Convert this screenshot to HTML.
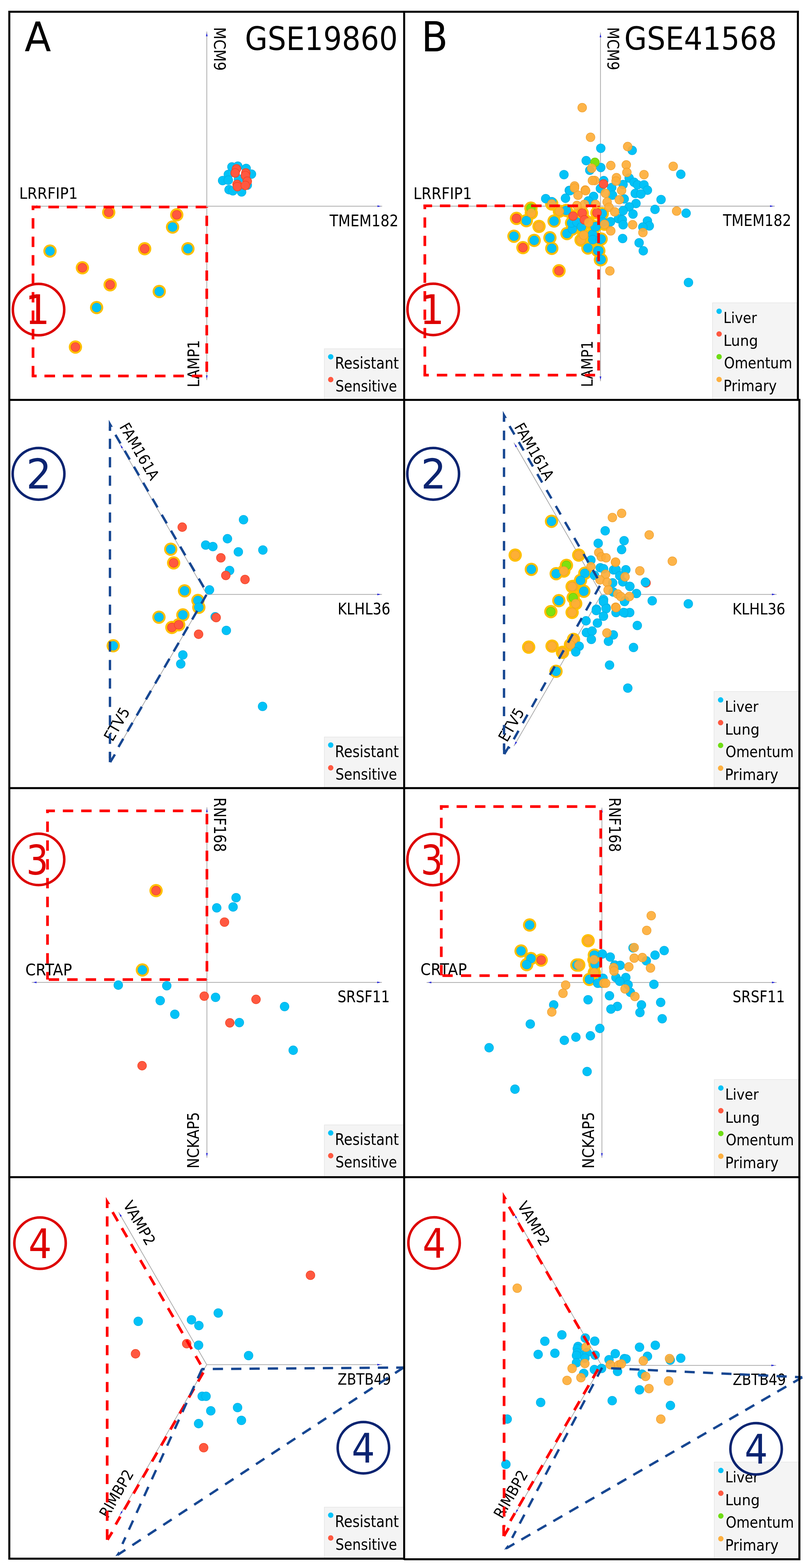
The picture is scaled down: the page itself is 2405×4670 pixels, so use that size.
<!DOCTYPE html><html><head><meta charset="utf-8"><title>Figure</title><style>html,body{margin:0;padding:0;background:#fff}svg{display:block}</style></head><body><svg width="2405" height="4670" viewBox="0 0 2405 4670" font-family="DejaVu Sans, Liberation Sans, sans-serif">
<rect width="2405" height="4670" fill="#fff"/>
<text transform="translate(74.0,152.5)" x="-0.8" y="0" font-size="121.4" textLength="78.7" lengthAdjust="spacingAndGlyphs" fill="#000">A</text>
<text transform="translate(734.0,149.0)" x="-4.9" y="0" font-size="96.0" textLength="454.7" lengthAdjust="spacingAndGlyphs" fill="#000">GSE19860</text>
<text transform="translate(1265.2,153.0)" x="-11.3" y="0" font-size="123.0" textLength="79.2" lengthAdjust="spacingAndGlyphs" fill="#000">B</text>
<text transform="translate(1863.0,147.5)" x="-4.9" y="0" font-size="94.7" textLength="454.3" lengthAdjust="spacingAndGlyphs" fill="#000">GSE41568</text>
<line x1="615.5" y1="614.2" x2="615.5" y2="94.0" stroke="#ACACAC" stroke-width="2.3"/><polygon points="615.5,98.0 618.1,108.0 612.9,108.0" fill="#2424D8"/>
<line x1="615.5" y1="614.2" x2="1137.5" y2="614.2" stroke="#ACACAC" stroke-width="2.3"/><polygon points="1133.5,614.2 1123.5,616.8 1123.5,611.6" fill="#2424D8"/>
<line x1="615.5" y1="614.2" x2="97.0" y2="614.2" stroke="#ACACAC" stroke-width="2.3"/><polygon points="101.0,614.2 111.0,611.6 111.0,616.8" fill="#2424D8"/>
<line x1="615.5" y1="614.2" x2="615.5" y2="1132.0" stroke="#ACACAC" stroke-width="2.3"/><polygon points="615.5,1128.0 612.9,1118.0 618.1,1118.0" fill="#2424D8"/>
<text transform="translate(637.0,85.0) rotate(90)" x="-4.2" y="0" font-size="48.7" textLength="130.1" lengthAdjust="spacingAndGlyphs" fill="#000">MCM9</text>
<text transform="translate(981.0,674.2)" x="0.1" y="0" font-size="48.6" textLength="205.0" lengthAdjust="spacingAndGlyphs" fill="#000">TMEM182</text>
<text transform="translate(61.5,592.0)" x="-4.2" y="0" font-size="46.6" textLength="174.2" lengthAdjust="spacingAndGlyphs" fill="#000">LRRFIP1</text>
<text transform="translate(593.0,1149.4) rotate(-90)" x="-4.1" y="0" font-size="48.0" textLength="140.8" lengthAdjust="spacingAndGlyphs" fill="#000">LAMP1</text>
<circle cx="323.6" cy="632.4" r="19.8" fill="#FFBF00"/>
<circle cx="526.1" cy="639.8" r="19.8" fill="#FFBF00"/>
<circle cx="513.6" cy="676.2" r="19.8" fill="#FFBF00"/>
<circle cx="148.8" cy="747.7" r="19.8" fill="#FFBF00"/>
<circle cx="430.6" cy="740.8" r="19.8" fill="#FFBF00"/>
<circle cx="559.3" cy="740.8" r="19.8" fill="#FFBF00"/>
<circle cx="245.2" cy="797.5" r="19.8" fill="#FFBF00"/>
<circle cx="327.8" cy="848.2" r="19.8" fill="#FFBF00"/>
<circle cx="474.0" cy="868.1" r="19.8" fill="#FFBF00"/>
<circle cx="287.6" cy="916.0" r="19.8" fill="#FFBF00"/>
<circle cx="224.5" cy="1033.6" r="19.8" fill="#FFBF00"/>
<circle cx="690.3" cy="497.1" r="13.2" fill="#02C2F7" stroke="#03AEE2" stroke-width="1.4"/>
<circle cx="707.8" cy="494.9" r="13.2" fill="#02C2F7" stroke="#03AEE2" stroke-width="1.4"/>
<circle cx="732.7" cy="501.6" r="13.2" fill="#02C2F7" stroke="#03AEE2" stroke-width="1.4"/>
<circle cx="748.5" cy="518.6" r="13.2" fill="#02C2F7" stroke="#03AEE2" stroke-width="1.4"/>
<circle cx="679.6" cy="519.7" r="13.2" fill="#02C2F7" stroke="#03AEE2" stroke-width="1.4"/>
<circle cx="662.6" cy="537.8" r="13.2" fill="#02C2F7" stroke="#03AEE2" stroke-width="1.4"/>
<circle cx="679.6" cy="536.7" r="13.2" fill="#02C2F7" stroke="#03AEE2" stroke-width="1.4"/>
<circle cx="681.8" cy="565.0" r="13.2" fill="#02C2F7" stroke="#03AEE2" stroke-width="1.4"/>
<circle cx="693.1" cy="568.3" r="13.2" fill="#02C2F7" stroke="#03AEE2" stroke-width="1.4"/>
<circle cx="719.1" cy="571.7" r="13.2" fill="#02C2F7" stroke="#03AEE2" stroke-width="1.4"/>
<circle cx="736.0" cy="551.4" r="13.2" fill="#02C2F7" stroke="#03AEE2" stroke-width="1.4"/>
<circle cx="710.0" cy="533.0" r="13.2" fill="#02C2F7" stroke="#03AEE2" stroke-width="1.4"/>
<circle cx="513.6" cy="676.2" r="13.2" fill="#02C2F7" stroke="#03AEE2" stroke-width="1.4"/>
<circle cx="148.8" cy="747.7" r="13.2" fill="#02C2F7" stroke="#03AEE2" stroke-width="1.4"/>
<circle cx="559.3" cy="740.8" r="13.2" fill="#02C2F7" stroke="#03AEE2" stroke-width="1.4"/>
<circle cx="474.0" cy="868.1" r="13.2" fill="#02C2F7" stroke="#03AEE2" stroke-width="1.4"/>
<circle cx="287.6" cy="916.0" r="13.2" fill="#02C2F7" stroke="#03AEE2" stroke-width="1.4"/>
<circle cx="703.9" cy="502.8" r="13.2" fill="#FF5840" stroke="#F0401E" stroke-width="1.4"/>
<circle cx="699.9" cy="515.2" r="13.2" fill="#FF5840" stroke="#F0401E" stroke-width="1.4"/>
<circle cx="731.6" cy="515.2" r="13.2" fill="#FF5840" stroke="#F0401E" stroke-width="1.4"/>
<circle cx="730.4" cy="523.1" r="13.2" fill="#FF5840" stroke="#F0401E" stroke-width="1.4"/>
<circle cx="736.0" cy="540.0" r="13.2" fill="#FF5840" stroke="#F0401E" stroke-width="1.4"/>
<circle cx="705.6" cy="549.1" r="13.2" fill="#FF5840" stroke="#F0401E" stroke-width="1.4"/>
<circle cx="706.7" cy="555.9" r="13.2" fill="#FF5840" stroke="#F0401E" stroke-width="1.4"/>
<circle cx="730.4" cy="552.5" r="13.2" fill="#FF5840" stroke="#F0401E" stroke-width="1.4"/>
<circle cx="323.6" cy="632.4" r="13.2" fill="#FF5840" stroke="#F0401E" stroke-width="1.4"/>
<circle cx="526.1" cy="639.8" r="13.2" fill="#FF5840" stroke="#F0401E" stroke-width="1.4"/>
<circle cx="430.6" cy="740.8" r="13.2" fill="#FF5840" stroke="#F0401E" stroke-width="1.4"/>
<circle cx="245.2" cy="797.5" r="13.2" fill="#FF5840" stroke="#F0401E" stroke-width="1.4"/>
<circle cx="327.8" cy="848.2" r="13.2" fill="#FF5840" stroke="#F0401E" stroke-width="1.4"/>
<circle cx="224.5" cy="1033.6" r="13.2" fill="#FF5840" stroke="#F0401E" stroke-width="1.4"/>
<line x1="94.3" y1="616.4" x2="615.4" y2="616.4" stroke="#FF0000" stroke-width="8" stroke-dasharray="31.5 23.3" stroke-dashoffset="5.10"/>
<line x1="98.3" y1="612.4" x2="98.3" y2="1123.8" stroke="#FF0000" stroke-width="8" stroke-dasharray="31 24" stroke-dashoffset="17.70"/>
<line x1="94.3" y1="1119.8" x2="615.4" y2="1119.8" stroke="#FF0000" stroke-width="8" stroke-dasharray="31.5 23.3" stroke-dashoffset="16.80"/>
<line x1="615.4" y1="616.4" x2="615.4" y2="1119.8" stroke="#FF0000" stroke-width="8" stroke-dasharray="30.5 23.8" stroke-dashoffset="28.20"/>
<circle cx="114.7" cy="922.1" r="76.5" fill="none" stroke="#DD0000" stroke-width="7.5"/><text transform="translate(87.5,965.4)" x="-12.7" y="0" font-size="120.7" textLength="73.9" lengthAdjust="spacingAndGlyphs" fill="#DD0000">1</text>
<rect x="965.4" y="1038.7" width="237.60000000000002" height="152.29999999999995" fill="#F4F4F4" stroke="#E2E2E2" stroke-width="1.5"/><circle cx="984.4" cy="1062.7" r="8" fill="#02C2F7"/><text transform="translate(1001.0,1098.3)" x="-4.0" y="0" font-size="47.5" textLength="190.2" lengthAdjust="spacingAndGlyphs" fill="#000">Resistant</text><circle cx="984.4" cy="1130.5" r="8" fill="#FF5840"/><text transform="translate(1001.0,1165.5)" x="-2.6" y="0" font-size="46.6" textLength="183.4" lengthAdjust="spacingAndGlyphs" fill="#000">Sensitive</text>
<line x1="1787.3" y1="614.0" x2="1787.3" y2="97.0" stroke="#ACACAC" stroke-width="2.3"/><polygon points="1787.3,101.0 1789.9,111.0 1784.7,111.0" fill="#2424D8"/>
<line x1="1787.3" y1="614.0" x2="2306.0" y2="614.0" stroke="#ACACAC" stroke-width="2.3"/><polygon points="2302.0,614.0 2292.0,616.6 2292.0,611.4" fill="#2424D8"/>
<line x1="1787.3" y1="614.0" x2="1264.5" y2="614.0" stroke="#ACACAC" stroke-width="2.3"/><polygon points="1268.5,614.0 1278.5,611.4 1278.5,616.6" fill="#2424D8"/>
<line x1="1787.3" y1="614.0" x2="1787.3" y2="1135.2" stroke="#ACACAC" stroke-width="2.3"/><polygon points="1787.3,1131.2 1784.7,1121.2 1789.9,1121.2" fill="#2424D8"/>
<text transform="translate(1808.0,85.0) rotate(90)" x="-4.1" y="0" font-size="48.7" textLength="128.2" lengthAdjust="spacingAndGlyphs" fill="#000">MCM9</text>
<text transform="translate(2151.9,673.0)" x="0.1" y="0" font-size="48.0" textLength="203.4" lengthAdjust="spacingAndGlyphs" fill="#000">TMEM182</text>
<text transform="translate(1234.7,593.1)" x="-4.2" y="0" font-size="48.0" textLength="173.9" lengthAdjust="spacingAndGlyphs" fill="#000">LRRFIP1</text>
<text transform="translate(1764.4,1148.8) rotate(-90)" x="-4.0" y="0" font-size="46.6" textLength="138.2" lengthAdjust="spacingAndGlyphs" fill="#000">LAMP1</text>
<circle cx="1580.3" cy="619.9" r="19.8" fill="#FFBF00"/>
<circle cx="1581.4" cy="634.6" r="19.8" fill="#FFBF00"/>
<circle cx="1537.3" cy="650.4" r="19.8" fill="#FFBF00"/>
<circle cx="1566.7" cy="657.2" r="19.8" fill="#FFBF00"/>
<circle cx="1604.4" cy="674.2" r="19.8" fill="#FFBF00"/>
<circle cx="1649.2" cy="658.3" r="19.8" fill="#FFBF00"/>
<circle cx="1529.8" cy="703.6" r="19.8" fill="#FFBF00"/>
<circle cx="1590.0" cy="716.0" r="19.8" fill="#FFBF00"/>
<circle cx="1556.5" cy="737.5" r="19.8" fill="#FFBF00"/>
<circle cx="1636.8" cy="708.1" r="19.8" fill="#FFBF00"/>
<circle cx="1642.4" cy="739.7" r="19.8" fill="#FFBF00"/>
<circle cx="1663.9" cy="806.4" r="19.8" fill="#FFBF00"/>
<circle cx="1642.4" cy="607.5" r="19.8" fill="#FFBF00"/>
<circle cx="1665.0" cy="629.0" r="19.8" fill="#FFBF00"/>
<circle cx="1685.4" cy="626.7" r="19.8" fill="#FFBF00"/>
<circle cx="1687.6" cy="695.6" r="19.8" fill="#FFBF00"/>
<circle cx="1703.5" cy="682.1" r="19.8" fill="#FFBF00"/>
<circle cx="1701.2" cy="664.0" r="19.8" fill="#FFBF00"/>
<circle cx="1717.0" cy="661.7" r="19.8" fill="#FFBF00"/>
<circle cx="1730.6" cy="675.3" r="19.8" fill="#FFBF00"/>
<circle cx="1729.5" cy="714.9" r="19.8" fill="#FFBF00"/>
<circle cx="1737.4" cy="700.2" r="19.8" fill="#FFBF00"/>
<circle cx="1763.4" cy="697.9" r="19.8" fill="#FFBF00"/>
<circle cx="1771.3" cy="675.3" r="19.8" fill="#FFBF00"/>
<circle cx="1764.5" cy="713.7" r="19.8" fill="#FFBF00"/>
<circle cx="1749.8" cy="738.6" r="19.8" fill="#FFBF00"/>
<circle cx="1779.2" cy="746.5" r="19.8" fill="#FFBF00"/>
<circle cx="1786.0" cy="713.7" r="19.8" fill="#FFBF00"/>
<circle cx="1787.1" cy="773.6" r="19.8" fill="#FFBF00"/>
<circle cx="1789.2" cy="711.9" r="19.8" fill="#FFBF00"/>
<circle cx="1782.4" cy="747.0" r="19.8" fill="#FFBF00"/>
<circle cx="1789.2" cy="773.0" r="19.8" fill="#FFBF00"/>
<circle cx="1792.6" cy="636.2" r="19.8" fill="#FFBF00"/>
<circle cx="1799.4" cy="667.8" r="19.8" fill="#FFBF00"/>
<circle cx="1705.7" cy="643.6" r="19.8" fill="#FFBF00"/>
<circle cx="1732.9" cy="634.6" r="19.8" fill="#FFBF00"/>
<circle cx="1739.6" cy="655.0" r="19.8" fill="#FFBF00"/>
<circle cx="1752.1" cy="662.9" r="19.8" fill="#FFBF00"/>
<circle cx="1776.8" cy="633.9" r="19.8" fill="#FFBF00"/>
<circle cx="1788.2" cy="441.6" r="13.2" fill="#02C2F7" stroke="#03AEE2" stroke-width="1.4"/>
<circle cx="1744.8" cy="478.5" r="13.2" fill="#02C2F7" stroke="#03AEE2" stroke-width="1.4"/>
<circle cx="1788.2" cy="498.8" r="13.2" fill="#02C2F7" stroke="#03AEE2" stroke-width="1.4"/>
<circle cx="1755.5" cy="507.2" r="13.2" fill="#02C2F7" stroke="#03AEE2" stroke-width="1.4"/>
<circle cx="1678.6" cy="520.1" r="13.2" fill="#02C2F7" stroke="#03AEE2" stroke-width="1.4"/>
<circle cx="1787.1" cy="561.5" r="13.2" fill="#02C2F7" stroke="#03AEE2" stroke-width="1.4"/>
<circle cx="1694.4" cy="567.1" r="13.2" fill="#02C2F7" stroke="#03AEE2" stroke-width="1.4"/>
<circle cx="1881.7" cy="447.8" r="13.2" fill="#02C2F7" stroke="#03AEE2" stroke-width="1.4"/>
<circle cx="2026.4" cy="519.0" r="13.2" fill="#02C2F7" stroke="#03AEE2" stroke-width="1.4"/>
<circle cx="1872.7" cy="530.3" r="13.2" fill="#02C2F7" stroke="#03AEE2" stroke-width="1.4"/>
<circle cx="1797.0" cy="538.0" r="13.2" fill="#02C2F7" stroke="#03AEE2" stroke-width="1.4"/>
<circle cx="1854.6" cy="549.6" r="13.2" fill="#02C2F7" stroke="#03AEE2" stroke-width="1.4"/>
<circle cx="1887.4" cy="542.8" r="13.2" fill="#02C2F7" stroke="#03AEE2" stroke-width="1.4"/>
<circle cx="1897.6" cy="550.7" r="13.2" fill="#02C2F7" stroke="#03AEE2" stroke-width="1.4"/>
<circle cx="1916.8" cy="550.7" r="13.2" fill="#02C2F7" stroke="#03AEE2" stroke-width="1.4"/>
<circle cx="1927.0" cy="566.5" r="13.2" fill="#02C2F7" stroke="#03AEE2" stroke-width="1.4"/>
<circle cx="1820.7" cy="558.6" r="13.2" fill="#02C2F7" stroke="#03AEE2" stroke-width="1.4"/>
<circle cx="1890.8" cy="576.2" r="13.2" fill="#02C2F7" stroke="#03AEE2" stroke-width="1.4"/>
<circle cx="1907.7" cy="577.8" r="13.2" fill="#02C2F7" stroke="#03AEE2" stroke-width="1.4"/>
<circle cx="1823.0" cy="581.2" r="13.2" fill="#02C2F7" stroke="#03AEE2" stroke-width="1.4"/>
<circle cx="1858.0" cy="592.5" r="13.2" fill="#02C2F7" stroke="#03AEE2" stroke-width="1.4"/>
<circle cx="1967.6" cy="594.3" r="13.2" fill="#02C2F7" stroke="#03AEE2" stroke-width="1.4"/>
<circle cx="1893.0" cy="606.1" r="13.2" fill="#02C2F7" stroke="#03AEE2" stroke-width="1.4"/>
<circle cx="1872.7" cy="616.2" r="13.2" fill="#02C2F7" stroke="#03AEE2" stroke-width="1.4"/>
<circle cx="1854.6" cy="627.6" r="13.2" fill="#02C2F7" stroke="#03AEE2" stroke-width="1.4"/>
<circle cx="1884.0" cy="637.7" r="13.2" fill="#02C2F7" stroke="#03AEE2" stroke-width="1.4"/>
<circle cx="1949.6" cy="623.7" r="13.2" fill="#02C2F7" stroke="#03AEE2" stroke-width="1.4"/>
<circle cx="2042.2" cy="635.0" r="13.2" fill="#02C2F7" stroke="#03AEE2" stroke-width="1.4"/>
<circle cx="1841.0" cy="651.3" r="13.2" fill="#02C2F7" stroke="#03AEE2" stroke-width="1.4"/>
<circle cx="1852.3" cy="654.7" r="13.2" fill="#02C2F7" stroke="#03AEE2" stroke-width="1.4"/>
<circle cx="1817.3" cy="660.3" r="13.2" fill="#02C2F7" stroke="#03AEE2" stroke-width="1.4"/>
<circle cx="1794.7" cy="661.5" r="13.2" fill="#02C2F7" stroke="#03AEE2" stroke-width="1.4"/>
<circle cx="1854.6" cy="669.4" r="13.2" fill="#02C2F7" stroke="#03AEE2" stroke-width="1.4"/>
<circle cx="1927.0" cy="658.1" r="13.2" fill="#02C2F7" stroke="#03AEE2" stroke-width="1.4"/>
<circle cx="1932.6" cy="672.8" r="13.2" fill="#02C2F7" stroke="#03AEE2" stroke-width="1.4"/>
<circle cx="1913.4" cy="676.2" r="13.2" fill="#02C2F7" stroke="#03AEE2" stroke-width="1.4"/>
<circle cx="1853.2" cy="710.3" r="13.2" fill="#02C2F7" stroke="#03AEE2" stroke-width="1.4"/>
<circle cx="1902.3" cy="723.2" r="13.2" fill="#02C2F7" stroke="#03AEE2" stroke-width="1.4"/>
<circle cx="1914.7" cy="747.0" r="13.2" fill="#02C2F7" stroke="#03AEE2" stroke-width="1.4"/>
<circle cx="2049.2" cy="841.4" r="13.2" fill="#02C2F7" stroke="#03AEE2" stroke-width="1.4"/>
<circle cx="1774.5" cy="674.6" r="13.2" fill="#02C2F7" stroke="#03AEE2" stroke-width="1.4"/>
<circle cx="1624.3" cy="591.7" r="13.2" fill="#02C2F7" stroke="#03AEE2" stroke-width="1.4"/>
<circle cx="1642.4" cy="600.7" r="13.2" fill="#02C2F7" stroke="#03AEE2" stroke-width="1.4"/>
<circle cx="1683.1" cy="590.5" r="13.2" fill="#02C2F7" stroke="#03AEE2" stroke-width="1.4"/>
<circle cx="1696.7" cy="567.9" r="13.2" fill="#02C2F7" stroke="#03AEE2" stroke-width="1.4"/>
<circle cx="1766.8" cy="584.9" r="13.2" fill="#02C2F7" stroke="#03AEE2" stroke-width="1.4"/>
<circle cx="1751.0" cy="598.4" r="13.2" fill="#02C2F7" stroke="#03AEE2" stroke-width="1.4"/>
<circle cx="1566.7" cy="657.2" r="13.2" fill="#02C2F7" stroke="#03AEE2" stroke-width="1.4"/>
<circle cx="1649.2" cy="658.3" r="13.2" fill="#02C2F7" stroke="#03AEE2" stroke-width="1.4"/>
<circle cx="1529.8" cy="703.6" r="13.2" fill="#02C2F7" stroke="#03AEE2" stroke-width="1.4"/>
<circle cx="1590.0" cy="716.0" r="13.2" fill="#02C2F7" stroke="#03AEE2" stroke-width="1.4"/>
<circle cx="1636.8" cy="708.1" r="13.2" fill="#02C2F7" stroke="#03AEE2" stroke-width="1.4"/>
<circle cx="1642.4" cy="739.7" r="13.2" fill="#02C2F7" stroke="#03AEE2" stroke-width="1.4"/>
<circle cx="1685.4" cy="626.7" r="13.2" fill="#02C2F7" stroke="#03AEE2" stroke-width="1.4"/>
<circle cx="1687.6" cy="695.6" r="13.2" fill="#02C2F7" stroke="#03AEE2" stroke-width="1.4"/>
<circle cx="1703.5" cy="682.1" r="13.2" fill="#02C2F7" stroke="#03AEE2" stroke-width="1.4"/>
<circle cx="1701.2" cy="664.0" r="13.2" fill="#02C2F7" stroke="#03AEE2" stroke-width="1.4"/>
<circle cx="1717.0" cy="661.7" r="13.2" fill="#02C2F7" stroke="#03AEE2" stroke-width="1.4"/>
<circle cx="1730.6" cy="675.3" r="13.2" fill="#02C2F7" stroke="#03AEE2" stroke-width="1.4"/>
<circle cx="1763.4" cy="697.9" r="13.2" fill="#02C2F7" stroke="#03AEE2" stroke-width="1.4"/>
<circle cx="1771.3" cy="675.3" r="13.2" fill="#02C2F7" stroke="#03AEE2" stroke-width="1.4"/>
<circle cx="1764.5" cy="713.7" r="13.2" fill="#02C2F7" stroke="#03AEE2" stroke-width="1.4"/>
<circle cx="1749.8" cy="738.6" r="13.2" fill="#02C2F7" stroke="#03AEE2" stroke-width="1.4"/>
<circle cx="1779.2" cy="746.5" r="13.2" fill="#02C2F7" stroke="#03AEE2" stroke-width="1.4"/>
<circle cx="1786.0" cy="713.7" r="13.2" fill="#02C2F7" stroke="#03AEE2" stroke-width="1.4"/>
<circle cx="1787.1" cy="773.6" r="13.2" fill="#02C2F7" stroke="#03AEE2" stroke-width="1.4"/>
<circle cx="1789.2" cy="711.9" r="13.2" fill="#02C2F7" stroke="#03AEE2" stroke-width="1.4"/>
<circle cx="1782.4" cy="747.0" r="13.2" fill="#02C2F7" stroke="#03AEE2" stroke-width="1.4"/>
<circle cx="1789.2" cy="773.0" r="13.2" fill="#02C2F7" stroke="#03AEE2" stroke-width="1.4"/>
<circle cx="1792.6" cy="636.2" r="13.2" fill="#02C2F7" stroke="#03AEE2" stroke-width="1.4"/>
<circle cx="1770.8" cy="483.5" r="13.2" fill="#7EE010" stroke="#6CCB05" stroke-width="1.4"/>
<circle cx="1580.3" cy="619.9" r="13.2" fill="#7EE010" stroke="#6CCB05" stroke-width="1.4"/>
<circle cx="1796.2" cy="547.9" r="13.2" fill="#FF5840" stroke="#F0401E" stroke-width="1.4"/>
<circle cx="1537.3" cy="650.4" r="13.2" fill="#FF5840" stroke="#F0401E" stroke-width="1.4"/>
<circle cx="1556.5" cy="737.5" r="13.2" fill="#FF5840" stroke="#F0401E" stroke-width="1.4"/>
<circle cx="1663.9" cy="806.4" r="13.2" fill="#FF5840" stroke="#F0401E" stroke-width="1.4"/>
<circle cx="1705.7" cy="643.6" r="13.2" fill="#FF5840" stroke="#F0401E" stroke-width="1.4"/>
<circle cx="1732.9" cy="634.6" r="13.2" fill="#FF5840" stroke="#F0401E" stroke-width="1.4"/>
<circle cx="1739.6" cy="655.0" r="13.2" fill="#FF5840" stroke="#F0401E" stroke-width="1.4"/>
<circle cx="1776.8" cy="633.9" r="13.2" fill="#FF5840" stroke="#F0401E" stroke-width="1.4"/>
<circle cx="1732.9" cy="320.7" r="13.2" fill="#FDAE3A" fill-opacity="0.92" stroke="#EE9E2A" stroke-width="1.4"/>
<circle cx="1757.7" cy="408.9" r="13.2" fill="#FDAE3A" fill-opacity="0.92" stroke="#EE9E2A" stroke-width="1.4"/>
<circle cx="1761.1" cy="501.1" r="13.2" fill="#FDAE3A" fill-opacity="0.92" stroke="#EE9E2A" stroke-width="1.4"/>
<circle cx="1770.2" cy="537.7" r="13.2" fill="#FDAE3A" fill-opacity="0.92" stroke="#EE9E2A" stroke-width="1.4"/>
<circle cx="1763.4" cy="537.7" r="13.2" fill="#FDAE3A" fill-opacity="0.92" stroke="#EE9E2A" stroke-width="1.4"/>
<circle cx="1710.2" cy="554.0" r="13.2" fill="#FDAE3A" fill-opacity="0.92" stroke="#EE9E2A" stroke-width="1.4"/>
<circle cx="1741.9" cy="566.0" r="13.2" fill="#FDAE3A" fill-opacity="0.92" stroke="#EE9E2A" stroke-width="1.4"/>
<circle cx="1868.2" cy="436.5" r="13.2" fill="#FDAE3A" fill-opacity="0.92" stroke="#EE9E2A" stroke-width="1.4"/>
<circle cx="1818.0" cy="493.0" r="13.2" fill="#FDAE3A" fill-opacity="0.92" stroke="#EE9E2A" stroke-width="1.4"/>
<circle cx="1864.1" cy="491.2" r="13.2" fill="#FDAE3A" fill-opacity="0.92" stroke="#EE9E2A" stroke-width="1.4"/>
<circle cx="1865.9" cy="513.4" r="13.2" fill="#FDAE3A" fill-opacity="0.92" stroke="#EE9E2A" stroke-width="1.4"/>
<circle cx="2003.8" cy="495.3" r="13.2" fill="#FDAE3A" fill-opacity="0.92" stroke="#EE9E2A" stroke-width="1.4"/>
<circle cx="1916.8" cy="520.2" r="13.2" fill="#FDAE3A" fill-opacity="0.92" stroke="#EE9E2A" stroke-width="1.4"/>
<circle cx="1834.9" cy="529.2" r="13.2" fill="#FDAE3A" fill-opacity="0.92" stroke="#EE9E2A" stroke-width="1.4"/>
<circle cx="1833.8" cy="539.4" r="13.2" fill="#FDAE3A" fill-opacity="0.92" stroke="#EE9E2A" stroke-width="1.4"/>
<circle cx="1850.1" cy="567.2" r="13.2" fill="#FDAE3A" fill-opacity="0.92" stroke="#EE9E2A" stroke-width="1.4"/>
<circle cx="1801.9" cy="575.6" r="13.2" fill="#FDAE3A" fill-opacity="0.92" stroke="#EE9E2A" stroke-width="1.4"/>
<circle cx="1843.3" cy="594.8" r="13.2" fill="#FDAE3A" fill-opacity="0.92" stroke="#EE9E2A" stroke-width="1.4"/>
<circle cx="1807.1" cy="601.6" r="13.2" fill="#FDAE3A" fill-opacity="0.92" stroke="#EE9E2A" stroke-width="1.4"/>
<circle cx="1812.8" cy="617.4" r="13.2" fill="#FDAE3A" fill-opacity="0.92" stroke="#EE9E2A" stroke-width="1.4"/>
<circle cx="1829.7" cy="630.9" r="13.2" fill="#FDAE3A" fill-opacity="0.92" stroke="#EE9E2A" stroke-width="1.4"/>
<circle cx="2014.0" cy="628.7" r="13.2" fill="#FDAE3A" fill-opacity="0.92" stroke="#EE9E2A" stroke-width="1.4"/>
<circle cx="1882.9" cy="669.4" r="13.2" fill="#FDAE3A" fill-opacity="0.92" stroke="#EE9E2A" stroke-width="1.4"/>
<circle cx="1913.6" cy="692.7" r="13.2" fill="#FDAE3A" fill-opacity="0.92" stroke="#EE9E2A" stroke-width="1.4"/>
<circle cx="1817.9" cy="687.7" r="13.2" fill="#FDAE3A" fill-opacity="0.92" stroke="#EE9E2A" stroke-width="1.4"/>
<circle cx="1815.2" cy="806.9" r="13.2" fill="#FDAE3A" fill-opacity="0.92" stroke="#EE9E2A" stroke-width="1.4"/>
<circle cx="1710.2" cy="560.0" r="13.2" fill="#FDAE3A" fill-opacity="0.92" stroke="#EE9E2A" stroke-width="1.4"/>
<circle cx="1720.4" cy="581.5" r="13.2" fill="#FDAE3A" fill-opacity="0.92" stroke="#EE9E2A" stroke-width="1.4"/>
<circle cx="1743.0" cy="567.9" r="13.2" fill="#FDAE3A" fill-opacity="0.92" stroke="#EE9E2A" stroke-width="1.4"/>
<circle cx="1772.4" cy="608.6" r="13.2" fill="#FDAE3A" fill-opacity="0.92" stroke="#EE9E2A" stroke-width="1.4"/>
<circle cx="1739.6" cy="608.6" r="13.2" fill="#FDAE3A" fill-opacity="0.92" stroke="#EE9E2A" stroke-width="1.4"/>
<circle cx="1717.0" cy="612.0" r="13.2" fill="#FDAE3A" fill-opacity="0.92" stroke="#EE9E2A" stroke-width="1.4"/>
<circle cx="1581.4" cy="634.6" r="13.2" fill="#FDAE3A" fill-opacity="0.92" stroke="#EE9E2A" stroke-width="1.4"/>
<circle cx="1604.4" cy="674.2" r="13.2" fill="#FDAE3A" fill-opacity="0.92" stroke="#EE9E2A" stroke-width="1.4"/>
<circle cx="1642.4" cy="607.5" r="13.2" fill="#FDAE3A" fill-opacity="0.92" stroke="#EE9E2A" stroke-width="1.4"/>
<circle cx="1665.0" cy="629.0" r="13.2" fill="#FDAE3A" fill-opacity="0.92" stroke="#EE9E2A" stroke-width="1.4"/>
<circle cx="1729.5" cy="714.9" r="13.2" fill="#FDAE3A" fill-opacity="0.92" stroke="#EE9E2A" stroke-width="1.4"/>
<circle cx="1737.4" cy="700.2" r="13.2" fill="#FDAE3A" fill-opacity="0.92" stroke="#EE9E2A" stroke-width="1.4"/>
<circle cx="1799.4" cy="667.8" r="13.2" fill="#FDAE3A" fill-opacity="0.92" stroke="#EE9E2A" stroke-width="1.4"/>
<circle cx="1752.1" cy="662.9" r="13.2" fill="#FDAE3A" fill-opacity="0.92" stroke="#EE9E2A" stroke-width="1.4"/>
<line x1="1260.5" y1="613.0" x2="1781.7" y2="613.0" stroke="#FF0000" stroke-width="8" stroke-dasharray="31.2 23.1" stroke-dashoffset="5.50"/>
<line x1="1264.5" y1="609.0" x2="1264.5" y2="1121.2" stroke="#FF0000" stroke-width="8" stroke-dasharray="30.5 24.4" stroke-dashoffset="16.50"/>
<line x1="1260.5" y1="1117.2" x2="1785.7" y2="1117.2" stroke="#FF0000" stroke-width="8" stroke-dasharray="31 24" stroke-dashoffset="15.20"/>
<line x1="1781.7" y1="613.0" x2="1781.7" y2="1117.2" stroke="#FF0000" stroke-width="8" stroke-dasharray="30.1 24.1" stroke-dashoffset="27.40"/>
<circle cx="1289.3" cy="921.4" r="76.5" fill="none" stroke="#DD0000" stroke-width="7.5"/><text transform="translate(1261.8,965.4)" x="-12.7" y="0" font-size="120.7" textLength="73.9" lengthAdjust="spacingAndGlyphs" fill="#DD0000">1</text>
<rect x="2120.8" y="901.9" width="254.19999999999982" height="289.1" fill="#F4F4F4" stroke="#E2E2E2" stroke-width="1.5"/><circle cx="2140.4" cy="927.0" r="8" fill="#02C2F7"/><text transform="translate(2157.3,962.0)" x="-4.0" y="0" font-size="45.0" textLength="99.6" lengthAdjust="spacingAndGlyphs" fill="#000">Liver</text><circle cx="2140.4" cy="994.6999999999999" r="8" fill="#FF5840"/><text transform="translate(2157.3,1030.3)" x="-4.1" y="0" font-size="45.0" textLength="103.2" lengthAdjust="spacingAndGlyphs" fill="#000">Lung</text><circle cx="2140.4" cy="1062.5" r="8" fill="#6EDD14"/><text transform="translate(2157.3,1097.4)" x="-2.3" y="0" font-size="46.0" textLength="203.0" lengthAdjust="spacingAndGlyphs" fill="#000">Omentum</text><circle cx="2140.4" cy="1130.2" r="8" fill="#FDB040"/><text transform="translate(2157.3,1165.2)" x="-4.0" y="0" font-size="46.0" textLength="158.9" lengthAdjust="spacingAndGlyphs" fill="#000">Primary</text>
<line x1="615.6" y1="1770.3" x2="1137.0" y2="1770.3" stroke="#ACACAC" stroke-width="2.3"/><polygon points="1133.0,1770.3 1123.0,1772.9 1123.0,1767.7" fill="#2424D8"/>
<line x1="615.6" y1="1770.3" x2="356.6" y2="1322.0" stroke="#ACACAC" stroke-width="2.3"/><polygon points="358.6,1325.5 365.9,1332.8 361.4,1335.4" fill="#2424D8"/>
<line x1="615.6" y1="1770.3" x2="356.6" y2="2218.6" stroke="#ACACAC" stroke-width="2.3"/><polygon points="358.6,2215.1 361.4,2205.2 365.9,2207.8" fill="#2424D8"/>
<text transform="translate(356.3,1274.4) rotate(60)" x="-4.0" y="0" font-size="45.3" textLength="187.9" lengthAdjust="spacingAndGlyphs" fill="#000">FAM161A</text>
<text transform="translate(337.0,2207.2) rotate(-60)" x="-4.1" y="0" font-size="45.3" textLength="106.7" lengthAdjust="spacingAndGlyphs" fill="#000">ETV5</text>
<text transform="translate(1009.0,1829.6)" x="-4.0" y="0" font-size="47.9" textLength="156.7" lengthAdjust="spacingAndGlyphs" fill="#000">KLHL36</text>
<circle cx="508.2" cy="1635.8" r="19.8" fill="#FFBF00"/>
<circle cx="549.3" cy="1759.7" r="19.8" fill="#FFBF00"/>
<circle cx="589.1" cy="1788.4" r="19.8" fill="#FFBF00"/>
<circle cx="591.8" cy="1808.8" r="19.8" fill="#FFBF00"/>
<circle cx="473.1" cy="1838.2" r="19.8" fill="#FFBF00"/>
<circle cx="544.3" cy="1831.4" r="19.8" fill="#FFBF00"/>
<circle cx="337.0" cy="1923.3" r="19.8" fill="#FFBF00"/>
<circle cx="516.8" cy="1676.5" r="19.8" fill="#FFBF00"/>
<circle cx="511.6" cy="1868.7" r="19.8" fill="#FFBF00"/>
<circle cx="531.9" cy="1860.8" r="19.8" fill="#FFBF00"/>
<circle cx="623.5" cy="1756.8" r="13.2" fill="#02C2F7" stroke="#03AEE2" stroke-width="1.4"/>
<circle cx="612.2" cy="1623.4" r="13.2" fill="#02C2F7" stroke="#03AEE2" stroke-width="1.4"/>
<circle cx="633.6" cy="1627.9" r="13.2" fill="#02C2F7" stroke="#03AEE2" stroke-width="1.4"/>
<circle cx="709.4" cy="1643.7" r="13.2" fill="#02C2F7" stroke="#03AEE2" stroke-width="1.4"/>
<circle cx="683.4" cy="1699.1" r="13.2" fill="#02C2F7" stroke="#03AEE2" stroke-width="1.4"/>
<circle cx="724.8" cy="1547.8" r="13.2" fill="#02C2F7" stroke="#03AEE2" stroke-width="1.4"/>
<circle cx="677.0" cy="1604.5" r="13.2" fill="#02C2F7" stroke="#03AEE2" stroke-width="1.4"/>
<circle cx="782.4" cy="1638.1" r="13.2" fill="#02C2F7" stroke="#03AEE2" stroke-width="1.4"/>
<circle cx="640.4" cy="1837.0" r="13.2" fill="#02C2F7" stroke="#03AEE2" stroke-width="1.4"/>
<circle cx="673.7" cy="1877.7" r="13.2" fill="#02C2F7" stroke="#03AEE2" stroke-width="1.4"/>
<circle cx="544.2" cy="1950.7" r="13.2" fill="#02C2F7" stroke="#03AEE2" stroke-width="1.4"/>
<circle cx="538.0" cy="1977.3" r="13.2" fill="#02C2F7" stroke="#03AEE2" stroke-width="1.4"/>
<circle cx="781.5" cy="2103.9" r="13.2" fill="#02C2F7" stroke="#03AEE2" stroke-width="1.4"/>
<circle cx="508.2" cy="1635.8" r="13.2" fill="#02C2F7" stroke="#03AEE2" stroke-width="1.4"/>
<circle cx="549.3" cy="1759.7" r="13.2" fill="#02C2F7" stroke="#03AEE2" stroke-width="1.4"/>
<circle cx="589.1" cy="1788.4" r="13.2" fill="#02C2F7" stroke="#03AEE2" stroke-width="1.4"/>
<circle cx="591.8" cy="1808.8" r="13.2" fill="#02C2F7" stroke="#03AEE2" stroke-width="1.4"/>
<circle cx="473.1" cy="1838.2" r="13.2" fill="#02C2F7" stroke="#03AEE2" stroke-width="1.4"/>
<circle cx="544.3" cy="1831.4" r="13.2" fill="#02C2F7" stroke="#03AEE2" stroke-width="1.4"/>
<circle cx="337.0" cy="1923.3" r="13.2" fill="#02C2F7" stroke="#03AEE2" stroke-width="1.4"/>
<circle cx="657.4" cy="1661.4" r="13.2" fill="#FF5840" stroke="#F0401E" stroke-width="1.4"/>
<circle cx="672.1" cy="1713.8" r="13.2" fill="#FF5840" stroke="#F0401E" stroke-width="1.4"/>
<circle cx="729.3" cy="1725.8" r="13.2" fill="#FF5840" stroke="#F0401E" stroke-width="1.4"/>
<circle cx="643.4" cy="1839.3" r="13.2" fill="#FF5840" stroke="#F0401E" stroke-width="1.4"/>
<circle cx="591.1" cy="1889.0" r="13.2" fill="#FF5840" stroke="#F0401E" stroke-width="1.4"/>
<circle cx="542.4" cy="1570.0" r="13.2" fill="#FF5840" stroke="#F0401E" stroke-width="1.4"/>
<circle cx="516.8" cy="1676.5" r="13.2" fill="#FF5840" stroke="#F0401E" stroke-width="1.4"/>
<circle cx="511.6" cy="1868.7" r="13.2" fill="#FF5840" stroke="#F0401E" stroke-width="1.4"/>
<circle cx="531.9" cy="1860.8" r="13.2" fill="#FF5840" stroke="#F0401E" stroke-width="1.4"/>
<line x1="327.3" y1="1271.3" x2="327.3" y2="2258.0" stroke="#174792" stroke-width="7" stroke-dasharray="30.3 24.6" stroke-dashoffset="19.50"/>
<polygon points="323.8,1250.3 335.8,1271.3 330.8,1271.3 330.8,1283.3 323.8,1283.3" fill="#174792"/>
<path d="M327.3,2239 L327.3,2270 M342,2247 L328,2270" stroke="#174792" stroke-width="7" fill="none"/>
<line x1="343.6" y1="1294.9" x2="606.5" y2="1748.9" stroke="#174792" stroke-width="7" stroke-dasharray="30 25" stroke-dashoffset="0"/>
<line x1="614.4" y1="1771.5" x2="352.7" y2="2224.7" stroke="#174792" stroke-width="7" stroke-dasharray="30 25" stroke-dashoffset="0"/>
<circle cx="114.7" cy="1411.2" r="77" fill="none" stroke="#0B2471" stroke-width="7.5"/><text transform="translate(86.8,1455.2)" x="-8.7" y="0" font-size="123.5" textLength="75.4" lengthAdjust="spacingAndGlyphs" fill="#0B2471">2</text>
<rect x="965.4" y="2195" width="237.60000000000002" height="152.30000000000018" fill="#F4F4F4" stroke="#E2E2E2" stroke-width="1.5"/><circle cx="984.4" cy="2219" r="8" fill="#02C2F7"/><text transform="translate(1001.0,2254.6)" x="-4.0" y="0" font-size="47.5" textLength="190.2" lengthAdjust="spacingAndGlyphs" fill="#000">Resistant</text><circle cx="984.4" cy="2286.8" r="8" fill="#FF5840"/><text transform="translate(1001.0,2321.8)" x="-2.6" y="0" font-size="46.6" textLength="183.4" lengthAdjust="spacingAndGlyphs" fill="#000">Sensitive</text>
<line x1="1790.5" y1="1770.3" x2="2311.7" y2="1770.3" stroke="#ACACAC" stroke-width="2.3"/><polygon points="2307.7,1770.3 2297.7,1772.9 2297.7,1767.7" fill="#2424D8"/>
<line x1="1790.5" y1="1770.3" x2="1529.7" y2="1318.6" stroke="#ACACAC" stroke-width="2.3"/><polygon points="1531.7,1322.1 1539.0,1329.4 1534.4,1332.0" fill="#2424D8"/>
<line x1="1790.5" y1="1770.3" x2="1529.7" y2="2222.0" stroke="#ACACAC" stroke-width="2.3"/><polygon points="1531.7,2218.5 1534.4,2208.6 1539.0,2211.2" fill="#2424D8"/>
<text transform="translate(1531.4,1274.6) rotate(60)" x="-4.0" y="0" font-size="45.3" textLength="187.9" lengthAdjust="spacingAndGlyphs" fill="#000">FAM161A</text>
<text transform="translate(1511.0,2209.0) rotate(-60)" x="-4.1" y="0" font-size="45.3" textLength="106.7" lengthAdjust="spacingAndGlyphs" fill="#000">ETV5</text>
<text transform="translate(2184.0,1829.6)" x="-4.1" y="0" font-size="46.6" textLength="157.6" lengthAdjust="spacingAndGlyphs" fill="#000">KLHL36</text>
<circle cx="1641.5" cy="1552.6" r="19.8" fill="#FFBF00"/>
<circle cx="1533.4" cy="1653.2" r="19.8" fill="#FFBF00"/>
<circle cx="1581.5" cy="1695.7" r="19.8" fill="#FFBF00"/>
<circle cx="1722.6" cy="1653.2" r="19.8" fill="#FFBF00"/>
<circle cx="1686.0" cy="1683.7" r="19.8" fill="#FFBF00"/>
<circle cx="1678.1" cy="1700.7" r="19.8" fill="#FFBF00"/>
<circle cx="1655.5" cy="1708.6" r="19.8" fill="#FFBF00"/>
<circle cx="1740.7" cy="1707.4" r="19.8" fill="#FFBF00"/>
<circle cx="1727.9" cy="1728.5" r="19.8" fill="#FFBF00"/>
<circle cx="1706.0" cy="1746.6" r="19.8" fill="#FFBF00"/>
<circle cx="1702.9" cy="1747.0" r="19.8" fill="#FFBF00"/>
<circle cx="1737.7" cy="1760.9" r="19.8" fill="#FFBF00"/>
<circle cx="1663.4" cy="1788.9" r="19.8" fill="#FFBF00"/>
<circle cx="1706.0" cy="1779.8" r="19.8" fill="#FFBF00"/>
<circle cx="1713.6" cy="1797.8" r="19.8" fill="#FFBF00"/>
<circle cx="1639.6" cy="1821.6" r="19.8" fill="#FFBF00"/>
<circle cx="1702.9" cy="1823.9" r="19.8" fill="#FFBF00"/>
<circle cx="1573.6" cy="1927.4" r="19.8" fill="#FFBF00"/>
<circle cx="1643.2" cy="1924.2" r="19.8" fill="#FFBF00"/>
<circle cx="1674.2" cy="1942.8" r="19.8" fill="#FFBF00"/>
<circle cx="1707.0" cy="1904.3" r="19.8" fill="#FFBF00"/>
<circle cx="1697.9" cy="1920.2" r="19.8" fill="#FFBF00"/>
<circle cx="1655.0" cy="1999.3" r="19.8" fill="#FFBF00"/>
<circle cx="1923.0" cy="1736.0" r="13.2" fill="#FF5840" stroke="#F0401E" stroke-width="1.4"/>
<circle cx="1801.3" cy="1580.9" r="13.2" fill="#02C2F7" stroke="#03AEE2" stroke-width="1.4"/>
<circle cx="1857.6" cy="1610.3" r="13.2" fill="#02C2F7" stroke="#03AEE2" stroke-width="1.4"/>
<circle cx="1850.2" cy="1636.8" r="13.2" fill="#02C2F7" stroke="#03AEE2" stroke-width="1.4"/>
<circle cx="1780.5" cy="1618.2" r="13.2" fill="#02C2F7" stroke="#03AEE2" stroke-width="1.4"/>
<circle cx="1758.8" cy="1668.2" r="13.2" fill="#02C2F7" stroke="#03AEE2" stroke-width="1.4"/>
<circle cx="1786.7" cy="1690.8" r="13.2" fill="#02C2F7" stroke="#03AEE2" stroke-width="1.4"/>
<circle cx="1796.5" cy="1693.9" r="13.2" fill="#02C2F7" stroke="#03AEE2" stroke-width="1.4"/>
<circle cx="1826.2" cy="1697.3" r="13.2" fill="#02C2F7" stroke="#03AEE2" stroke-width="1.4"/>
<circle cx="1769.3" cy="1713.4" r="13.2" fill="#02C2F7" stroke="#03AEE2" stroke-width="1.4"/>
<circle cx="1823.6" cy="1736.0" r="13.2" fill="#02C2F7" stroke="#03AEE2" stroke-width="1.4"/>
<circle cx="1834.1" cy="1696.9" r="13.2" fill="#02C2F7" stroke="#03AEE2" stroke-width="1.4"/>
<circle cx="1862.8" cy="1696.9" r="13.2" fill="#02C2F7" stroke="#03AEE2" stroke-width="1.4"/>
<circle cx="1844.7" cy="1715.0" r="13.2" fill="#02C2F7" stroke="#03AEE2" stroke-width="1.4"/>
<circle cx="1853.7" cy="1733.0" r="13.2" fill="#02C2F7" stroke="#03AEE2" stroke-width="1.4"/>
<circle cx="1874.8" cy="1746.6" r="13.2" fill="#02C2F7" stroke="#03AEE2" stroke-width="1.4"/>
<circle cx="1825.1" cy="1763.2" r="13.2" fill="#02C2F7" stroke="#03AEE2" stroke-width="1.4"/>
<circle cx="1894.4" cy="1767.7" r="13.2" fill="#02C2F7" stroke="#03AEE2" stroke-width="1.4"/>
<circle cx="1796.5" cy="1785.8" r="13.2" fill="#02C2F7" stroke="#03AEE2" stroke-width="1.4"/>
<circle cx="1859.8" cy="1788.8" r="13.2" fill="#02C2F7" stroke="#03AEE2" stroke-width="1.4"/>
<circle cx="1775.4" cy="1814.4" r="13.2" fill="#02C2F7" stroke="#03AEE2" stroke-width="1.4"/>
<circle cx="1804.0" cy="1809.9" r="13.2" fill="#02C2F7" stroke="#03AEE2" stroke-width="1.4"/>
<circle cx="1921.0" cy="1734.0" r="13.2" fill="#02C2F7" stroke="#03AEE2" stroke-width="1.4"/>
<circle cx="1874.6" cy="1746.4" r="13.2" fill="#02C2F7" stroke="#03AEE2" stroke-width="1.4"/>
<circle cx="1941.3" cy="1789.4" r="13.2" fill="#02C2F7" stroke="#03AEE2" stroke-width="1.4"/>
<circle cx="2048.7" cy="1798.4" r="13.2" fill="#02C2F7" stroke="#03AEE2" stroke-width="1.4"/>
<circle cx="1858.8" cy="1791.6" r="13.2" fill="#02C2F7" stroke="#03AEE2" stroke-width="1.4"/>
<circle cx="1833.6" cy="1824.4" r="13.2" fill="#02C2F7" stroke="#03AEE2" stroke-width="1.4"/>
<circle cx="1860.7" cy="1825.6" r="13.2" fill="#02C2F7" stroke="#03AEE2" stroke-width="1.4"/>
<circle cx="1874.3" cy="1824.4" r="13.2" fill="#02C2F7" stroke="#03AEE2" stroke-width="1.4"/>
<circle cx="1896.9" cy="1862.9" r="13.2" fill="#02C2F7" stroke="#03AEE2" stroke-width="1.4"/>
<circle cx="1885.6" cy="1928.4" r="13.2" fill="#02C2F7" stroke="#03AEE2" stroke-width="1.4"/>
<circle cx="1774.8" cy="1818.4" r="13.2" fill="#02C2F7" stroke="#03AEE2" stroke-width="1.4"/>
<circle cx="1796.2" cy="1792.4" r="13.2" fill="#02C2F7" stroke="#03AEE2" stroke-width="1.4"/>
<circle cx="1804.2" cy="1812.8" r="13.2" fill="#02C2F7" stroke="#03AEE2" stroke-width="1.4"/>
<circle cx="1796.2" cy="1835.4" r="13.2" fill="#02C2F7" stroke="#03AEE2" stroke-width="1.4"/>
<circle cx="1778.2" cy="1855.7" r="13.2" fill="#02C2F7" stroke="#03AEE2" stroke-width="1.4"/>
<circle cx="1744.3" cy="1849.0" r="13.2" fill="#02C2F7" stroke="#03AEE2" stroke-width="1.4"/>
<circle cx="1745.4" cy="1884.0" r="13.2" fill="#02C2F7" stroke="#03AEE2" stroke-width="1.4"/>
<circle cx="1762.3" cy="1879.5" r="13.2" fill="#02C2F7" stroke="#03AEE2" stroke-width="1.4"/>
<circle cx="1760.1" cy="1904.3" r="13.2" fill="#02C2F7" stroke="#03AEE2" stroke-width="1.4"/>
<circle cx="1825.6" cy="1890.8" r="13.2" fill="#02C2F7" stroke="#03AEE2" stroke-width="1.4"/>
<circle cx="1811.0" cy="1910.0" r="13.2" fill="#02C2F7" stroke="#03AEE2" stroke-width="1.4"/>
<circle cx="1814.3" cy="1980.8" r="13.2" fill="#02C2F7" stroke="#03AEE2" stroke-width="1.4"/>
<circle cx="1856.2" cy="1824.1" r="13.2" fill="#02C2F7" stroke="#03AEE2" stroke-width="1.4"/>
<circle cx="1723.9" cy="1924.7" r="13.2" fill="#02C2F7" stroke="#03AEE2" stroke-width="1.4"/>
<circle cx="1713.7" cy="1941.6" r="13.2" fill="#02C2F7" stroke="#03AEE2" stroke-width="1.4"/>
<circle cx="1868.6" cy="2049.4" r="13.2" fill="#02C2F7" stroke="#03AEE2" stroke-width="1.4"/>
<circle cx="1641.5" cy="1552.6" r="13.2" fill="#02C2F7" stroke="#03AEE2" stroke-width="1.4"/>
<circle cx="1581.5" cy="1695.7" r="13.2" fill="#02C2F7" stroke="#03AEE2" stroke-width="1.4"/>
<circle cx="1655.5" cy="1708.6" r="13.2" fill="#02C2F7" stroke="#03AEE2" stroke-width="1.4"/>
<circle cx="1740.7" cy="1707.4" r="13.2" fill="#02C2F7" stroke="#03AEE2" stroke-width="1.4"/>
<circle cx="1727.9" cy="1728.5" r="13.2" fill="#02C2F7" stroke="#03AEE2" stroke-width="1.4"/>
<circle cx="1737.7" cy="1760.9" r="13.2" fill="#02C2F7" stroke="#03AEE2" stroke-width="1.4"/>
<circle cx="1663.4" cy="1788.9" r="13.2" fill="#02C2F7" stroke="#03AEE2" stroke-width="1.4"/>
<circle cx="1655.0" cy="1999.3" r="13.2" fill="#02C2F7" stroke="#03AEE2" stroke-width="1.4"/>
<circle cx="1686.0" cy="1683.7" r="13.2" fill="#7EE010" stroke="#6CCB05" stroke-width="1.4"/>
<circle cx="1706.0" cy="1779.8" r="13.2" fill="#7EE010" stroke="#6CCB05" stroke-width="1.4"/>
<circle cx="1639.6" cy="1821.6" r="13.2" fill="#7EE010" stroke="#6CCB05" stroke-width="1.4"/>
<circle cx="1822.8" cy="1541.3" r="13.2" fill="#FDAE3A" fill-opacity="0.92" stroke="#EE9E2A" stroke-width="1.4"/>
<circle cx="1850.2" cy="1528.9" r="13.2" fill="#FDAE3A" fill-opacity="0.92" stroke="#EE9E2A" stroke-width="1.4"/>
<circle cx="1932.3" cy="1593.1" r="13.2" fill="#FDAE3A" fill-opacity="0.92" stroke="#EE9E2A" stroke-width="1.4"/>
<circle cx="1782.1" cy="1645.6" r="13.2" fill="#FDAE3A" fill-opacity="0.92" stroke="#EE9E2A" stroke-width="1.4"/>
<circle cx="1789.7" cy="1658.4" r="13.2" fill="#FDAE3A" fill-opacity="0.92" stroke="#EE9E2A" stroke-width="1.4"/>
<circle cx="1804.0" cy="1661.4" r="13.2" fill="#FDAE3A" fill-opacity="0.92" stroke="#EE9E2A" stroke-width="1.4"/>
<circle cx="1831.9" cy="1674.3" r="13.2" fill="#FDAE3A" fill-opacity="0.92" stroke="#EE9E2A" stroke-width="1.4"/>
<circle cx="1758.8" cy="1687.8" r="13.2" fill="#FDAE3A" fill-opacity="0.92" stroke="#EE9E2A" stroke-width="1.4"/>
<circle cx="1802.5" cy="1710.4" r="13.2" fill="#FDAE3A" fill-opacity="0.92" stroke="#EE9E2A" stroke-width="1.4"/>
<circle cx="1785.9" cy="1727.0" r="13.2" fill="#FDAE3A" fill-opacity="0.92" stroke="#EE9E2A" stroke-width="1.4"/>
<circle cx="1807.0" cy="1734.5" r="13.2" fill="#FDAE3A" fill-opacity="0.92" stroke="#EE9E2A" stroke-width="1.4"/>
<circle cx="1860.5" cy="1718.0" r="13.2" fill="#FDAE3A" fill-opacity="0.92" stroke="#EE9E2A" stroke-width="1.4"/>
<circle cx="1810.0" cy="1757.2" r="13.2" fill="#FDAE3A" fill-opacity="0.92" stroke="#EE9E2A" stroke-width="1.4"/>
<circle cx="1838.7" cy="1769.2" r="13.2" fill="#FDAE3A" fill-opacity="0.92" stroke="#EE9E2A" stroke-width="1.4"/>
<circle cx="1847.7" cy="1776.7" r="13.2" fill="#FDAE3A" fill-opacity="0.92" stroke="#EE9E2A" stroke-width="1.4"/>
<circle cx="1873.3" cy="1776.7" r="13.2" fill="#FDAE3A" fill-opacity="0.92" stroke="#EE9E2A" stroke-width="1.4"/>
<circle cx="1832.6" cy="1808.4" r="13.2" fill="#FDAE3A" fill-opacity="0.92" stroke="#EE9E2A" stroke-width="1.4"/>
<circle cx="1904.4" cy="1700.1" r="13.2" fill="#FDAE3A" fill-opacity="0.92" stroke="#EE9E2A" stroke-width="1.4"/>
<circle cx="2001.2" cy="1671.4" r="13.2" fill="#FDAE3A" fill-opacity="0.92" stroke="#EE9E2A" stroke-width="1.4"/>
<circle cx="1832.3" cy="1674.1" r="13.2" fill="#FDAE3A" fill-opacity="0.92" stroke="#EE9E2A" stroke-width="1.4"/>
<circle cx="1833.6" cy="1809.7" r="13.2" fill="#FDAE3A" fill-opacity="0.92" stroke="#EE9E2A" stroke-width="1.4"/>
<circle cx="1806.4" cy="1885.1" r="13.2" fill="#FDAE3A" fill-opacity="0.92" stroke="#EE9E2A" stroke-width="1.4"/>
<circle cx="1533.4" cy="1653.2" r="13.2" fill="#FDAE3A" fill-opacity="0.92" stroke="#EE9E2A" stroke-width="1.4"/>
<circle cx="1722.6" cy="1653.2" r="13.2" fill="#FDAE3A" fill-opacity="0.92" stroke="#EE9E2A" stroke-width="1.4"/>
<circle cx="1678.1" cy="1700.7" r="13.2" fill="#FDAE3A" fill-opacity="0.92" stroke="#EE9E2A" stroke-width="1.4"/>
<circle cx="1706.0" cy="1746.6" r="13.2" fill="#FDAE3A" fill-opacity="0.92" stroke="#EE9E2A" stroke-width="1.4"/>
<circle cx="1702.9" cy="1747.0" r="13.2" fill="#FDAE3A" fill-opacity="0.92" stroke="#EE9E2A" stroke-width="1.4"/>
<circle cx="1713.6" cy="1797.8" r="13.2" fill="#FDAE3A" fill-opacity="0.92" stroke="#EE9E2A" stroke-width="1.4"/>
<circle cx="1702.9" cy="1823.9" r="13.2" fill="#FDAE3A" fill-opacity="0.92" stroke="#EE9E2A" stroke-width="1.4"/>
<circle cx="1573.6" cy="1927.4" r="13.2" fill="#FDAE3A" fill-opacity="0.92" stroke="#EE9E2A" stroke-width="1.4"/>
<circle cx="1643.2" cy="1924.2" r="13.2" fill="#FDAE3A" fill-opacity="0.92" stroke="#EE9E2A" stroke-width="1.4"/>
<circle cx="1674.2" cy="1942.8" r="13.2" fill="#FDAE3A" fill-opacity="0.92" stroke="#EE9E2A" stroke-width="1.4"/>
<circle cx="1707.0" cy="1904.3" r="13.2" fill="#FDAE3A" fill-opacity="0.92" stroke="#EE9E2A" stroke-width="1.4"/>
<circle cx="1697.9" cy="1920.2" r="13.2" fill="#FDAE3A" fill-opacity="0.92" stroke="#EE9E2A" stroke-width="1.4"/>
<line x1="1500.2" y1="1244.7" x2="1500.2" y2="2234.0" stroke="#174792" stroke-width="7" stroke-dasharray="28.5 26.3" stroke-dashoffset="17.00"/>
<polygon points="1496.7,1223.7 1508.7,1244.7 1503.7,1244.7 1503.7,1255.7 1496.7,1255.7" fill="#174792"/>
<path d="M1500.6,2215 L1500.6,2246 M1515,2223 L1501,2246" stroke="#174792" stroke-width="7" fill="none"/>
<line x1="1516.7" y1="1269.0" x2="1778.7" y2="1722.2" stroke="#174792" stroke-width="7" stroke-dasharray="29 26" stroke-dashoffset="0"/>
<line x1="1785.5" y1="1744.8" x2="1514.0" y2="2228.8" stroke="#174792" stroke-width="7" stroke-dasharray="29 26" stroke-dashoffset="0"/>
<circle cx="1289.3" cy="1411.2" r="77" fill="none" stroke="#0B2471" stroke-width="7.5"/><text transform="translate(1261.4,1455.2)" x="-8.7" y="0" font-size="123.5" textLength="75.4" lengthAdjust="spacingAndGlyphs" fill="#0B2471">2</text>
<rect x="2125.3" y="2059.5" width="251.19999999999982" height="287.8000000000002" fill="#F4F4F4" stroke="#E2E2E2" stroke-width="1.5"/><circle cx="2144.9" cy="2084.6" r="8" fill="#02C2F7"/><text transform="translate(2161.8,2119.6)" x="-4.0" y="0" font-size="45.0" textLength="99.6" lengthAdjust="spacingAndGlyphs" fill="#000">Liver</text><circle cx="2144.9" cy="2152.3" r="8" fill="#FF5840"/><text transform="translate(2161.8,2187.9)" x="-4.1" y="0" font-size="45.0" textLength="103.2" lengthAdjust="spacingAndGlyphs" fill="#000">Lung</text><circle cx="2144.9" cy="2220.1" r="8" fill="#6EDD14"/><text transform="translate(2161.8,2255.0)" x="-2.3" y="0" font-size="46.0" textLength="203.0" lengthAdjust="spacingAndGlyphs" fill="#000">Omentum</text><circle cx="2144.9" cy="2287.8" r="8" fill="#FDB040"/><text transform="translate(2161.8,2322.8)" x="-4.0" y="0" font-size="46.0" textLength="158.9" lengthAdjust="spacingAndGlyphs" fill="#000">Primary</text>
<line x1="615.9" y1="2925.8" x2="1136.7" y2="2925.8" stroke="#ACACAC" stroke-width="2.3"/><polygon points="1132.7,2925.8 1122.7,2928.4 1122.7,2923.2" fill="#2424D8"/>
<line x1="615.9" y1="2925.8" x2="94.7" y2="2925.8" stroke="#ACACAC" stroke-width="2.3"/><polygon points="98.7,2925.8 108.7,2923.2 108.7,2928.4" fill="#2424D8"/>
<line x1="615.9" y1="2925.8" x2="615.9" y2="2404.5" stroke="#ACACAC" stroke-width="2.3"/><polygon points="615.9,2408.5 618.5,2418.5 613.3,2418.5" fill="#2424D8"/>
<line x1="615.9" y1="2925.8" x2="615.9" y2="3448.3" stroke="#ACACAC" stroke-width="2.3"/><polygon points="615.9,3444.3 613.3,3434.3 618.5,3434.3" fill="#2424D8"/>
<text transform="translate(636.5,2379.3) rotate(90)" x="-4.1" y="0" font-size="49.4" textLength="162.4" lengthAdjust="spacingAndGlyphs" fill="#000">RNF168</text>
<text transform="translate(78.1,2904.5)" x="-2.5" y="0" font-size="48.4" textLength="138.9" lengthAdjust="spacingAndGlyphs" fill="#000">CRTAP</text>
<text transform="translate(1007.4,2985.4)" x="-2.7" y="0" font-size="47.7" textLength="155.6" lengthAdjust="spacingAndGlyphs" fill="#000">SRSF11</text>
<text transform="translate(592.1,3476.0) rotate(-90)" x="-4.1" y="0" font-size="47.2" textLength="168.0" lengthAdjust="spacingAndGlyphs" fill="#000">NCKAP5</text>
<circle cx="464.5" cy="2652.5" r="19.8" fill="#FFBF00"/>
<circle cx="423.8" cy="2888.9" r="19.8" fill="#FFBF00"/>
<circle cx="702.7" cy="2673.7" r="13.2" fill="#02C2F7" stroke="#03AEE2" stroke-width="1.4"/>
<circle cx="645.1" cy="2703.8" r="13.2" fill="#02C2F7" stroke="#03AEE2" stroke-width="1.4"/>
<circle cx="693.8" cy="2701.2" r="13.2" fill="#02C2F7" stroke="#03AEE2" stroke-width="1.4"/>
<circle cx="352.1" cy="2934.0" r="13.2" fill="#02C2F7" stroke="#03AEE2" stroke-width="1.4"/>
<circle cx="496.4" cy="2935.8" r="13.2" fill="#02C2F7" stroke="#03AEE2" stroke-width="1.4"/>
<circle cx="476.9" cy="2980.1" r="13.2" fill="#02C2F7" stroke="#03AEE2" stroke-width="1.4"/>
<circle cx="520.3" cy="3020.8" r="13.2" fill="#02C2F7" stroke="#03AEE2" stroke-width="1.4"/>
<circle cx="641.6" cy="2970.3" r="13.2" fill="#02C2F7" stroke="#03AEE2" stroke-width="1.4"/>
<circle cx="847.0" cy="2997.8" r="13.2" fill="#02C2F7" stroke="#03AEE2" stroke-width="1.4"/>
<circle cx="712.4" cy="3045.6" r="13.2" fill="#02C2F7" stroke="#03AEE2" stroke-width="1.4"/>
<circle cx="872.7" cy="3128.0" r="13.2" fill="#02C2F7" stroke="#03AEE2" stroke-width="1.4"/>
<circle cx="423.8" cy="2888.9" r="13.2" fill="#02C2F7" stroke="#03AEE2" stroke-width="1.4"/>
<circle cx="668.2" cy="2746.3" r="13.2" fill="#FF5840" stroke="#F0401E" stroke-width="1.4"/>
<circle cx="607.9" cy="2966.8" r="13.2" fill="#FF5840" stroke="#F0401E" stroke-width="1.4"/>
<circle cx="762.0" cy="2976.5" r="13.2" fill="#FF5840" stroke="#F0401E" stroke-width="1.4"/>
<circle cx="684.1" cy="3046.5" r="13.2" fill="#FF5840" stroke="#F0401E" stroke-width="1.4"/>
<circle cx="422.9" cy="3174.0" r="13.2" fill="#FF5840" stroke="#F0401E" stroke-width="1.4"/>
<circle cx="464.5" cy="2652.5" r="13.2" fill="#FF5840" stroke="#F0401E" stroke-width="1.4"/>
<line x1="137.4" y1="2415.0" x2="615.9" y2="2415.0" stroke="#FF0000" stroke-width="8" stroke-dasharray="31 23.6" stroke-dashoffset="5.00"/>
<line x1="141.4" y1="2411.0" x2="141.4" y2="2917.5" stroke="#FF0000" stroke-width="8" stroke-dasharray="31 25" stroke-dashoffset="20.30"/>
<line x1="137.4" y1="2917.5" x2="614.8" y2="2917.5" stroke="#FF0000" stroke-width="8" stroke-dasharray="31 24" stroke-dashoffset="47.40"/>
<line x1="615.9" y1="2415.0" x2="615.9" y2="2917.5" stroke="#FF0000" stroke-width="8" stroke-dasharray="31 23.8" stroke-dashoffset="45.90"/>
<circle cx="114.8" cy="2559.5" r="76.5" fill="none" stroke="#DD0000" stroke-width="7.5"/><text transform="translate(86.0,2603.5)" x="-7.9" y="0" font-size="120.7" textLength="66.1" lengthAdjust="spacingAndGlyphs" fill="#DD0000">3</text>
<rect x="965.4" y="3350.3" width="237.60000000000002" height="155.69999999999982" fill="#F4F4F4" stroke="#E2E2E2" stroke-width="1.5"/><circle cx="984.4" cy="3374.3" r="8" fill="#02C2F7"/><text transform="translate(1001.0,3409.9)" x="-4.0" y="0" font-size="47.5" textLength="190.2" lengthAdjust="spacingAndGlyphs" fill="#000">Resistant</text><circle cx="984.4" cy="3442.1000000000004" r="8" fill="#FF5840"/><text transform="translate(1001.0,3477.1)" x="-2.6" y="0" font-size="46.6" textLength="183.4" lengthAdjust="spacingAndGlyphs" fill="#000">Sensitive</text>
<line x1="1791.6" y1="2926.1" x2="2311.7" y2="2926.1" stroke="#ACACAC" stroke-width="2.3"/><polygon points="2307.7,2926.1 2297.7,2928.7 2297.7,2923.5" fill="#2424D8"/>
<line x1="1791.6" y1="2926.1" x2="1269.9" y2="2926.1" stroke="#ACACAC" stroke-width="2.3"/><polygon points="1273.9,2926.1 1283.9,2923.5 1283.9,2928.7" fill="#2424D8"/>
<line x1="1791.6" y1="2926.1" x2="1791.6" y2="2405.5" stroke="#ACACAC" stroke-width="2.3"/><polygon points="1791.6,2409.5 1794.2,2419.5 1789.0,2419.5" fill="#2424D8"/>
<line x1="1791.6" y1="2926.1" x2="1791.6" y2="3448.5" stroke="#ACACAC" stroke-width="2.3"/><polygon points="1791.6,3444.5 1789.0,3434.5 1794.2,3434.5" fill="#2424D8"/>
<text transform="translate(1812.5,2379.3) rotate(90)" x="-4.1" y="0" font-size="48.7" textLength="162.4" lengthAdjust="spacingAndGlyphs" fill="#000">RNF168</text>
<text transform="translate(1254.1,2903.7)" x="-2.5" y="0" font-size="47.3" textLength="138.1" lengthAdjust="spacingAndGlyphs" fill="#000">CRTAP</text>
<text transform="translate(2183.2,2985.4)" x="-2.7" y="0" font-size="47.7" textLength="155.6" lengthAdjust="spacingAndGlyphs" fill="#000">SRSF11</text>
<text transform="translate(1767.8,3476.1) rotate(-90)" x="-4.1" y="0" font-size="47.5" textLength="168.3" lengthAdjust="spacingAndGlyphs" fill="#000">NCKAP5</text>
<circle cx="1576.4" cy="2754.9" r="19.8" fill="#FFBF00"/>
<circle cx="1550.9" cy="2832.3" r="19.8" fill="#FFBF00"/>
<circle cx="1580.3" cy="2854.9" r="19.8" fill="#FFBF00"/>
<circle cx="1567.8" cy="2872.9" r="19.8" fill="#FFBF00"/>
<circle cx="1610.8" cy="2859.4" r="19.8" fill="#FFBF00"/>
<circle cx="1750.5" cy="2801.7" r="19.8" fill="#FFBF00"/>
<circle cx="1717.0" cy="2874.1" r="19.8" fill="#FFBF00"/>
<circle cx="1722.7" cy="2874.1" r="19.8" fill="#FFBF00"/>
<circle cx="1769.0" cy="2844.7" r="19.8" fill="#FFBF00"/>
<circle cx="1767.9" cy="2858.3" r="19.8" fill="#FFBF00"/>
<circle cx="1771.3" cy="2871.8" r="19.8" fill="#FFBF00"/>
<circle cx="1769.0" cy="2896.7" r="19.8" fill="#FFBF00"/>
<circle cx="1754.3" cy="2917.0" r="19.8" fill="#FFBF00"/>
<circle cx="1792.8" cy="2841.3" r="13.2" fill="#02C2F7" stroke="#03AEE2" stroke-width="1.4"/>
<circle cx="1780.3" cy="2928.3" r="13.2" fill="#02C2F7" stroke="#03AEE2" stroke-width="1.4"/>
<circle cx="1791.6" cy="2928.3" r="13.2" fill="#02C2F7" stroke="#03AEE2" stroke-width="1.4"/>
<circle cx="1750.3" cy="2977.6" r="13.2" fill="#02C2F7" stroke="#03AEE2" stroke-width="1.4"/>
<circle cx="1648.1" cy="2992.8" r="13.2" fill="#02C2F7" stroke="#03AEE2" stroke-width="1.4"/>
<circle cx="1884.2" cy="2823.2" r="13.2" fill="#02C2F7" stroke="#03AEE2" stroke-width="1.4"/>
<circle cx="1976.9" cy="2831.1" r="13.2" fill="#02C2F7" stroke="#03AEE2" stroke-width="1.4"/>
<circle cx="1949.7" cy="2844.7" r="13.2" fill="#02C2F7" stroke="#03AEE2" stroke-width="1.4"/>
<circle cx="1923.7" cy="2861.6" r="13.2" fill="#02C2F7" stroke="#03AEE2" stroke-width="1.4"/>
<circle cx="1816.3" cy="2850.3" r="13.2" fill="#02C2F7" stroke="#03AEE2" stroke-width="1.4"/>
<circle cx="1829.9" cy="2874.1" r="13.2" fill="#02C2F7" stroke="#03AEE2" stroke-width="1.4"/>
<circle cx="1845.7" cy="2875.2" r="13.2" fill="#02C2F7" stroke="#03AEE2" stroke-width="1.4"/>
<circle cx="1833.3" cy="2911.4" r="13.2" fill="#02C2F7" stroke="#03AEE2" stroke-width="1.4"/>
<circle cx="1862.7" cy="2911.4" r="13.2" fill="#02C2F7" stroke="#03AEE2" stroke-width="1.4"/>
<circle cx="1844.6" cy="2922.7" r="13.2" fill="#02C2F7" stroke="#03AEE2" stroke-width="1.4"/>
<circle cx="1869.5" cy="2932.9" r="13.2" fill="#02C2F7" stroke="#03AEE2" stroke-width="1.4"/>
<circle cx="1794.9" cy="2913.6" r="13.2" fill="#02C2F7" stroke="#03AEE2" stroke-width="1.4"/>
<circle cx="1779.0" cy="2928.3" r="13.2" fill="#02C2F7" stroke="#03AEE2" stroke-width="1.4"/>
<circle cx="1876.3" cy="2955.5" r="13.2" fill="#02C2F7" stroke="#03AEE2" stroke-width="1.4"/>
<circle cx="1946.3" cy="2931.7" r="13.2" fill="#02C2F7" stroke="#03AEE2" stroke-width="1.4"/>
<circle cx="1814.1" cy="2965.6" r="13.2" fill="#02C2F7" stroke="#03AEE2" stroke-width="1.4"/>
<circle cx="1909.3" cy="2993.0" r="13.2" fill="#02C2F7" stroke="#03AEE2" stroke-width="1.4"/>
<circle cx="1904.8" cy="3015.6" r="13.2" fill="#02C2F7" stroke="#03AEE2" stroke-width="1.4"/>
<circle cx="1966.5" cy="2985.5" r="13.2" fill="#02C2F7" stroke="#03AEE2" stroke-width="1.4"/>
<circle cx="1971.0" cy="3034.1" r="13.2" fill="#02C2F7" stroke="#03AEE2" stroke-width="1.4"/>
<circle cx="1837.6" cy="2997.5" r="13.2" fill="#02C2F7" stroke="#03AEE2" stroke-width="1.4"/>
<circle cx="1818.4" cy="3005.4" r="13.2" fill="#02C2F7" stroke="#03AEE2" stroke-width="1.4"/>
<circle cx="1578.4" cy="3049.9" r="13.2" fill="#02C2F7" stroke="#03AEE2" stroke-width="1.4"/>
<circle cx="1679.7" cy="3098.5" r="13.2" fill="#02C2F7" stroke="#03AEE2" stroke-width="1.4"/>
<circle cx="1714.1" cy="3089.0" r="13.2" fill="#02C2F7" stroke="#03AEE2" stroke-width="1.4"/>
<circle cx="1757.3" cy="3085.0" r="13.2" fill="#02C2F7" stroke="#03AEE2" stroke-width="1.4"/>
<circle cx="1785.3" cy="3063.0" r="13.2" fill="#02C2F7" stroke="#03AEE2" stroke-width="1.4"/>
<circle cx="1747.5" cy="3191.4" r="13.2" fill="#02C2F7" stroke="#03AEE2" stroke-width="1.4"/>
<circle cx="1532.8" cy="3243.9" r="13.2" fill="#02C2F7" stroke="#03AEE2" stroke-width="1.4"/>
<circle cx="1455.8" cy="3120.5" r="13.2" fill="#02C2F7" stroke="#03AEE2" stroke-width="1.4"/>
<circle cx="1576.4" cy="2754.9" r="13.2" fill="#02C2F7" stroke="#03AEE2" stroke-width="1.4"/>
<circle cx="1550.9" cy="2832.3" r="13.2" fill="#02C2F7" stroke="#03AEE2" stroke-width="1.4"/>
<circle cx="1580.3" cy="2854.9" r="13.2" fill="#02C2F7" stroke="#03AEE2" stroke-width="1.4"/>
<circle cx="1567.8" cy="2872.9" r="13.2" fill="#02C2F7" stroke="#03AEE2" stroke-width="1.4"/>
<circle cx="1717.0" cy="2874.1" r="13.2" fill="#02C2F7" stroke="#03AEE2" stroke-width="1.4"/>
<circle cx="1769.0" cy="2844.7" r="13.2" fill="#02C2F7" stroke="#03AEE2" stroke-width="1.4"/>
<circle cx="1771.3" cy="2871.8" r="13.2" fill="#02C2F7" stroke="#03AEE2" stroke-width="1.4"/>
<circle cx="1754.3" cy="2917.0" r="13.2" fill="#02C2F7" stroke="#03AEE2" stroke-width="1.4"/>
<circle cx="1610.8" cy="2859.4" r="13.2" fill="#FF5840" stroke="#F0401E" stroke-width="1.4"/>
<circle cx="1797.3" cy="2928.3" r="13.2" fill="#FDAE3A" fill-opacity="0.92" stroke="#EE9E2A" stroke-width="1.4"/>
<circle cx="1683.6" cy="2934.0" r="13.2" fill="#FDAE3A" fill-opacity="0.92" stroke="#EE9E2A" stroke-width="1.4"/>
<circle cx="1675.7" cy="2958.4" r="13.2" fill="#FDAE3A" fill-opacity="0.92" stroke="#EE9E2A" stroke-width="1.4"/>
<circle cx="1938.4" cy="2727.1" r="13.2" fill="#FDAE3A" fill-opacity="0.92" stroke="#EE9E2A" stroke-width="1.4"/>
<circle cx="1924.9" cy="2771.2" r="13.2" fill="#FDAE3A" fill-opacity="0.92" stroke="#EE9E2A" stroke-width="1.4"/>
<circle cx="1887.6" cy="2822.1" r="13.2" fill="#FDAE3A" fill-opacity="0.92" stroke="#EE9E2A" stroke-width="1.4"/>
<circle cx="1887.6" cy="2853.7" r="13.2" fill="#FDAE3A" fill-opacity="0.92" stroke="#EE9E2A" stroke-width="1.4"/>
<circle cx="1912.0" cy="2851.9" r="13.2" fill="#FDAE3A" fill-opacity="0.92" stroke="#EE9E2A" stroke-width="1.4"/>
<circle cx="1936.2" cy="2883.1" r="13.2" fill="#FDAE3A" fill-opacity="0.92" stroke="#EE9E2A" stroke-width="1.4"/>
<circle cx="1871.7" cy="2879.7" r="13.2" fill="#FDAE3A" fill-opacity="0.92" stroke="#EE9E2A" stroke-width="1.4"/>
<circle cx="1826.5" cy="2882.0" r="13.2" fill="#FDAE3A" fill-opacity="0.92" stroke="#EE9E2A" stroke-width="1.4"/>
<circle cx="1827.6" cy="2892.2" r="13.2" fill="#FDAE3A" fill-opacity="0.92" stroke="#EE9E2A" stroke-width="1.4"/>
<circle cx="1802.8" cy="2928.3" r="13.2" fill="#FDAE3A" fill-opacity="0.92" stroke="#EE9E2A" stroke-width="1.4"/>
<circle cx="1860.4" cy="2945.3" r="13.2" fill="#FDAE3A" fill-opacity="0.92" stroke="#EE9E2A" stroke-width="1.4"/>
<circle cx="1889.8" cy="2967.9" r="13.2" fill="#FDAE3A" fill-opacity="0.92" stroke="#EE9E2A" stroke-width="1.4"/>
<circle cx="1642.4" cy="3014.0" r="13.2" fill="#FDAE3A" fill-opacity="0.92" stroke="#EE9E2A" stroke-width="1.4"/>
<circle cx="1750.5" cy="2801.7" r="13.2" fill="#FDAE3A" fill-opacity="0.92" stroke="#EE9E2A" stroke-width="1.4"/>
<circle cx="1722.7" cy="2874.1" r="13.2" fill="#FDAE3A" fill-opacity="0.92" stroke="#EE9E2A" stroke-width="1.4"/>
<circle cx="1767.9" cy="2858.3" r="13.2" fill="#FDAE3A" fill-opacity="0.92" stroke="#EE9E2A" stroke-width="1.4"/>
<circle cx="1769.0" cy="2896.7" r="13.2" fill="#FDAE3A" fill-opacity="0.92" stroke="#EE9E2A" stroke-width="1.4"/>
<line x1="1309.5" y1="2402.3" x2="1788.1" y2="2402.3" stroke="#FF0000" stroke-width="8" stroke-dasharray="31 23.7" stroke-dashoffset="5.10"/>
<line x1="1313.5" y1="2398.3" x2="1313.5" y2="2905.8" stroke="#FF0000" stroke-width="8" stroke-dasharray="31 23.8" stroke-dashoffset="17.50"/>
<line x1="1309.5" y1="2905.8" x2="1788.1" y2="2905.8" stroke="#FF0000" stroke-width="8" stroke-dasharray="30.5 24.6" stroke-dashoffset="47.70"/>
<line x1="1788.1" y1="2402.3" x2="1788.1" y2="2905.8" stroke="#FF0000" stroke-width="8" stroke-dasharray="30 24.8" stroke-dashoffset="44.30"/>
<circle cx="1289" cy="2559.9" r="76.5" fill="none" stroke="#DD0000" stroke-width="7.5"/><text transform="translate(1260.0,2603.9)" x="-7.9" y="0" font-size="120.7" textLength="66.1" lengthAdjust="spacingAndGlyphs" fill="#DD0000">3</text>
<rect x="2126" y="3215.3" width="250.5" height="290.6999999999998" fill="#F4F4F4" stroke="#E2E2E2" stroke-width="1.5"/><circle cx="2145.6" cy="3240.4" r="8" fill="#02C2F7"/><text transform="translate(2162.5,3275.4)" x="-4.0" y="0" font-size="45.0" textLength="99.6" lengthAdjust="spacingAndGlyphs" fill="#000">Liver</text><circle cx="2145.6" cy="3308.1000000000004" r="8" fill="#FF5840"/><text transform="translate(2162.5,3343.7)" x="-4.1" y="0" font-size="45.0" textLength="103.2" lengthAdjust="spacingAndGlyphs" fill="#000">Lung</text><circle cx="2145.6" cy="3375.9" r="8" fill="#6EDD14"/><text transform="translate(2162.5,3410.8)" x="-2.3" y="0" font-size="46.0" textLength="203.0" lengthAdjust="spacingAndGlyphs" fill="#000">Omentum</text><circle cx="2145.6" cy="3443.6000000000004" r="8" fill="#FDB040"/><text transform="translate(2162.5,3478.6)" x="-4.0" y="0" font-size="46.0" textLength="158.9" lengthAdjust="spacingAndGlyphs" fill="#000">Primary</text>
<line x1="615.3" y1="4064.4" x2="1137.0" y2="4064.4" stroke="#ACACAC" stroke-width="2.3"/><polygon points="1133.0,4064.4 1123.0,4067.0 1123.0,4061.8" fill="#2424D8"/>
<line x1="615.3" y1="4064.4" x2="353.3" y2="3610.6" stroke="#ACACAC" stroke-width="2.3"/><polygon points="355.3,3614.1 362.6,3621.4 358.0,3624.0" fill="#2424D8"/>
<line x1="615.3" y1="4064.4" x2="356.0" y2="4514.0" stroke="#ACACAC" stroke-width="2.3"/><polygon points="358.0,4510.5 360.7,4500.6 365.2,4503.2" fill="#2424D8"/>
<text transform="translate(365.4,3588.2) rotate(60)" x="-0.3" y="0" font-size="45.3" textLength="144.1" lengthAdjust="spacingAndGlyphs" fill="#000">VAMP2</text>
<text transform="translate(323.3,4520.3) rotate(-60)" x="-4.1" y="0" font-size="45.3" textLength="156.1" lengthAdjust="spacingAndGlyphs" fill="#000">RIMBP2</text>
<text transform="translate(1006.9,4123.6)" x="-1.8" y="0" font-size="46.4" textLength="158.8" lengthAdjust="spacingAndGlyphs" fill="#000">ZBTB49</text>
<circle cx="649.6" cy="3910.6" r="13.2" fill="#02C2F7" stroke="#03AEE2" stroke-width="1.4"/>
<circle cx="411.4" cy="3935.4" r="13.2" fill="#02C2F7" stroke="#03AEE2" stroke-width="1.4"/>
<circle cx="569.9" cy="3931.0" r="13.2" fill="#02C2F7" stroke="#03AEE2" stroke-width="1.4"/>
<circle cx="592.0" cy="3947.8" r="13.2" fill="#02C2F7" stroke="#03AEE2" stroke-width="1.4"/>
<circle cx="591.1" cy="4006.3" r="13.2" fill="#02C2F7" stroke="#03AEE2" stroke-width="1.4"/>
<circle cx="739.9" cy="4037.3" r="13.2" fill="#02C2F7" stroke="#03AEE2" stroke-width="1.4"/>
<circle cx="601.8" cy="4158.6" r="13.2" fill="#02C2F7" stroke="#03AEE2" stroke-width="1.4"/>
<circle cx="613.3" cy="4158.6" r="13.2" fill="#02C2F7" stroke="#03AEE2" stroke-width="1.4"/>
<circle cx="627.4" cy="4201.9" r="13.2" fill="#02C2F7" stroke="#03AEE2" stroke-width="1.4"/>
<circle cx="707.1" cy="4192.2" r="13.2" fill="#02C2F7" stroke="#03AEE2" stroke-width="1.4"/>
<circle cx="718.6" cy="4230.3" r="13.2" fill="#02C2F7" stroke="#03AEE2" stroke-width="1.4"/>
<circle cx="591.1" cy="4240.0" r="13.2" fill="#02C2F7" stroke="#03AEE2" stroke-width="1.4"/>
<circle cx="924.1" cy="3798.2" r="13.2" fill="#FF5840" stroke="#F0401E" stroke-width="1.4"/>
<circle cx="555.7" cy="4001.8" r="13.2" fill="#FF5840" stroke="#F0401E" stroke-width="1.4"/>
<circle cx="403.4" cy="4032.0" r="13.2" fill="#FF5840" stroke="#F0401E" stroke-width="1.4"/>
<circle cx="606.2" cy="4311.7" r="13.2" fill="#FF5840" stroke="#F0401E" stroke-width="1.4"/>
<line x1="319.0" y1="3586.0" x2="319.0" y2="4560.0" stroke="#FF0000" stroke-width="8" stroke-dasharray="30 24.8" stroke-dashoffset="18.10"/>
<polygon points="315.0,3564.9 328.0,3585.9 323.0,3585.9 323.0,3597.9 315.0,3597.9" fill="#FF0000"/>
<path d="M319,4555 L319,4586 M334,4563 L320,4586" stroke="#FF0000" stroke-width="8" fill="none"/>
<line x1="335.2" y1="3610.1" x2="597.2" y2="4064.0" stroke="#FF0000" stroke-width="8" stroke-dasharray="31 24" stroke-dashoffset="0"/>
<line x1="605.1" y1="4087.7" x2="344.4" y2="4540.4" stroke="#FF0000" stroke-width="8" stroke-dasharray="31 24" stroke-dashoffset="0"/>
<line x1="599.5" y1="4077.6" x2="1201.0" y2="4073.0" stroke="#174792" stroke-width="7" stroke-dasharray="30.5 24.1" stroke-dashoffset="20.78"/>
<line x1="601.0" y1="4078.0" x2="364.4" y2="4598.4" stroke="#174792" stroke-width="7" stroke-dasharray="30 25" stroke-dashoffset="0"/>
<line x1="1201.0" y1="4073.0" x2="350.0" y2="4631.0" stroke="#174792" stroke-width="7" stroke-dasharray="30 25" stroke-dashoffset="0"/>
<polygon points="343.3,4635.3 352.8,4620.7 358.6,4629.5" fill="#174792"/>
<circle cx="119.2" cy="3702.6" r="76.5" fill="none" stroke="#DD0000" stroke-width="7.5"/><text transform="translate(90.0,3746.6)" x="-5.2" y="0" font-size="120.7" textLength="69.2" lengthAdjust="spacingAndGlyphs" fill="#DD0000">4</text>
<circle cx="1081.6" cy="4311.7" r="76.5" fill="none" stroke="#0B2471" stroke-width="7.5"/><text transform="translate(1052.0,4355.7)" x="-5.2" y="0" font-size="120.7" textLength="69.2" lengthAdjust="spacingAndGlyphs" fill="#0B2471">4</text>
<rect x="965.4" y="4488.7" width="237.60000000000002" height="153.60000000000036" fill="#F4F4F4" stroke="#E2E2E2" stroke-width="1.5"/><circle cx="984.4" cy="4512.7" r="8" fill="#02C2F7"/><text transform="translate(1001.0,4548.3)" x="-4.0" y="0" font-size="47.5" textLength="190.2" lengthAdjust="spacingAndGlyphs" fill="#000">Resistant</text><circle cx="984.4" cy="4580.5" r="8" fill="#FF5840"/><text transform="translate(1001.0,4615.5)" x="-2.6" y="0" font-size="46.6" textLength="183.4" lengthAdjust="spacingAndGlyphs" fill="#000">Sensitive</text>
<line x1="1790.6" y1="4066.6" x2="2310.0" y2="4066.6" stroke="#ACACAC" stroke-width="2.3"/><polygon points="2306.0,4066.6 2296.0,4069.2 2296.0,4064.0" fill="#2424D8"/>
<line x1="1790.6" y1="4066.6" x2="1530.0" y2="3615.0" stroke="#ACACAC" stroke-width="2.3"/><polygon points="1532.0,3618.5 1539.2,3625.8 1534.7,3628.4" fill="#2424D8"/>
<line x1="1790.6" y1="4066.6" x2="1533.0" y2="4509.0" stroke="#ACACAC" stroke-width="2.3"/><polygon points="1535.0,4505.5 1537.8,4495.6 1542.3,4498.2" fill="#2424D8"/>
<text transform="translate(1539.0,3590.0) rotate(60)" x="-0.3" y="0" font-size="45.3" textLength="144.1" lengthAdjust="spacingAndGlyphs" fill="#000">VAMP2</text>
<text transform="translate(1497.0,4522.0) rotate(-60)" x="-4.1" y="0" font-size="45.3" textLength="156.1" lengthAdjust="spacingAndGlyphs" fill="#000">RIMBP2</text>
<text transform="translate(2182.7,4125.1)" x="-1.8" y="0" font-size="46.1" textLength="158.3" lengthAdjust="spacingAndGlyphs" fill="#000">ZBTB49</text>
<circle cx="1672.4" cy="3975.7" r="13.2" fill="#02C2F7" stroke="#03AEE2" stroke-width="1.4"/>
<circle cx="1621.7" cy="3994.7" r="13.2" fill="#02C2F7" stroke="#03AEE2" stroke-width="1.4"/>
<circle cx="1601.8" cy="4033.8" r="13.2" fill="#02C2F7" stroke="#03AEE2" stroke-width="1.4"/>
<circle cx="1651.6" cy="4030.4" r="13.2" fill="#02C2F7" stroke="#03AEE2" stroke-width="1.4"/>
<circle cx="1742.0" cy="3985.2" r="13.2" fill="#02C2F7" stroke="#03AEE2" stroke-width="1.4"/>
<circle cx="1770.2" cy="3994.3" r="13.2" fill="#02C2F7" stroke="#03AEE2" stroke-width="1.4"/>
<circle cx="1720.5" cy="4010.1" r="13.2" fill="#02C2F7" stroke="#03AEE2" stroke-width="1.4"/>
<circle cx="1718.3" cy="4016.9" r="13.2" fill="#02C2F7" stroke="#03AEE2" stroke-width="1.4"/>
<circle cx="1718.3" cy="4029.3" r="13.2" fill="#02C2F7" stroke="#03AEE2" stroke-width="1.4"/>
<circle cx="1716.0" cy="4037.2" r="13.2" fill="#02C2F7" stroke="#03AEE2" stroke-width="1.4"/>
<circle cx="1740.9" cy="4032.7" r="13.2" fill="#02C2F7" stroke="#03AEE2" stroke-width="1.4"/>
<circle cx="1747.6" cy="4028.2" r="13.2" fill="#02C2F7" stroke="#03AEE2" stroke-width="1.4"/>
<circle cx="1771.4" cy="4036.1" r="13.2" fill="#02C2F7" stroke="#03AEE2" stroke-width="1.4"/>
<circle cx="1740.9" cy="4045.1" r="13.2" fill="#02C2F7" stroke="#03AEE2" stroke-width="1.4"/>
<circle cx="1716.0" cy="4058.7" r="13.2" fill="#02C2F7" stroke="#03AEE2" stroke-width="1.4"/>
<circle cx="1769.1" cy="4079.0" r="13.2" fill="#02C2F7" stroke="#03AEE2" stroke-width="1.4"/>
<circle cx="1790.6" cy="4075.6" r="13.2" fill="#02C2F7" stroke="#03AEE2" stroke-width="1.4"/>
<circle cx="1737.5" cy="4090.3" r="13.2" fill="#02C2F7" stroke="#03AEE2" stroke-width="1.4"/>
<circle cx="1812.7" cy="4049.6" r="13.2" fill="#02C2F7" stroke="#03AEE2" stroke-width="1.4"/>
<circle cx="1831.3" cy="4031.6" r="13.2" fill="#02C2F7" stroke="#03AEE2" stroke-width="1.4"/>
<circle cx="1838.1" cy="4084.7" r="13.2" fill="#02C2F7" stroke="#03AEE2" stroke-width="1.4"/>
<circle cx="1858.4" cy="4046.3" r="13.2" fill="#02C2F7" stroke="#03AEE2" stroke-width="1.4"/>
<circle cx="1863.5" cy="4047.4" r="13.2" fill="#02C2F7" stroke="#03AEE2" stroke-width="1.4"/>
<circle cx="1609.3" cy="4176.9" r="13.2" fill="#02C2F7" stroke="#03AEE2" stroke-width="1.4"/>
<circle cx="1822.2" cy="4171.7" r="13.2" fill="#02C2F7" stroke="#03AEE2" stroke-width="1.4"/>
<circle cx="1903.5" cy="4012.3" r="13.2" fill="#02C2F7" stroke="#03AEE2" stroke-width="1.4"/>
<circle cx="1950.5" cy="4006.7" r="13.2" fill="#02C2F7" stroke="#03AEE2" stroke-width="1.4"/>
<circle cx="1927.2" cy="4039.5" r="13.2" fill="#02C2F7" stroke="#03AEE2" stroke-width="1.4"/>
<circle cx="1995.0" cy="4050.8" r="13.2" fill="#02C2F7" stroke="#03AEE2" stroke-width="1.4"/>
<circle cx="2026.2" cy="4045.1" r="13.2" fill="#02C2F7" stroke="#03AEE2" stroke-width="1.4"/>
<circle cx="1911.4" cy="4092.6" r="13.2" fill="#02C2F7" stroke="#03AEE2" stroke-width="1.4"/>
<circle cx="1903.5" cy="4139.4" r="13.2" fill="#02C2F7" stroke="#03AEE2" stroke-width="1.4"/>
<circle cx="1995.5" cy="4186.0" r="13.2" fill="#02C2F7" stroke="#03AEE2" stroke-width="1.4"/>
<circle cx="1509.7" cy="4226.5" r="13.2" fill="#02C2F7" stroke="#03AEE2" stroke-width="1.4"/>
<circle cx="1505.8" cy="4361.2" r="13.2" fill="#02C2F7" stroke="#03AEE2" stroke-width="1.4"/>
<circle cx="1744.3" cy="4012.3" r="13.2" fill="#FDAE3A" fill-opacity="0.92" stroke="#EE9E2A" stroke-width="1.4"/>
<circle cx="1740.9" cy="4061.0" r="13.2" fill="#FDAE3A" fill-opacity="0.92" stroke="#EE9E2A" stroke-width="1.4"/>
<circle cx="1702.9" cy="4075.6" r="13.2" fill="#FDAE3A" fill-opacity="0.92" stroke="#EE9E2A" stroke-width="1.4"/>
<circle cx="1729.1" cy="4103.2" r="13.2" fill="#FDAE3A" fill-opacity="0.92" stroke="#EE9E2A" stroke-width="1.4"/>
<circle cx="1687.7" cy="4111.4" r="13.2" fill="#FDAE3A" fill-opacity="0.92" stroke="#EE9E2A" stroke-width="1.4"/>
<circle cx="1816.6" cy="4064.3" r="13.2" fill="#FDAE3A" fill-opacity="0.92" stroke="#EE9E2A" stroke-width="1.4"/>
<circle cx="1841.5" cy="4065.5" r="13.2" fill="#FDAE3A" fill-opacity="0.92" stroke="#EE9E2A" stroke-width="1.4"/>
<circle cx="1849.4" cy="4062.1" r="13.2" fill="#FDAE3A" fill-opacity="0.92" stroke="#EE9E2A" stroke-width="1.4"/>
<circle cx="1914.8" cy="4053.0" r="13.2" fill="#FDAE3A" fill-opacity="0.92" stroke="#EE9E2A" stroke-width="1.4"/>
<circle cx="1992.8" cy="4046.3" r="13.2" fill="#FDAE3A" fill-opacity="0.92" stroke="#EE9E2A" stroke-width="1.4"/>
<circle cx="1921.6" cy="4099.4" r="13.2" fill="#FDAE3A" fill-opacity="0.92" stroke="#EE9E2A" stroke-width="1.4"/>
<circle cx="1990.1" cy="4113.0" r="13.2" fill="#FDAE3A" fill-opacity="0.92" stroke="#EE9E2A" stroke-width="1.4"/>
<circle cx="1931.7" cy="4135.6" r="13.2" fill="#FDAE3A" fill-opacity="0.92" stroke="#EE9E2A" stroke-width="1.4"/>
<circle cx="1966.8" cy="4226.7" r="13.2" fill="#FDAE3A" fill-opacity="0.92" stroke="#EE9E2A" stroke-width="1.4"/>
<circle cx="1539.5" cy="3836.6" r="13.2" fill="#FDAE3A" fill-opacity="0.92" stroke="#EE9E2A" stroke-width="1.4"/>
<line x1="1500.4" y1="3571.3" x2="1500.4" y2="4548.0" stroke="#FF0000" stroke-width="8" stroke-dasharray="30 24.9" stroke-dashoffset="17.70"/>
<polygon points="1496.4,3550.3 1509.4,3571.3 1504.4,3571.3 1504.4,3584.3 1496.4,3584.3" fill="#FF0000"/>
<path d="M1499.2,4543 L1499.2,4574.9 M1514,4551 L1500,4574.9" stroke="#FF0000" stroke-width="8" fill="none"/>
<line x1="1515.0" y1="3594.0" x2="1776.0" y2="4046.0" stroke="#FF0000" stroke-width="8" stroke-dasharray="31 24.5" stroke-dashoffset="0.00"/>
<line x1="1780.0" y1="4078.0" x2="1519.0" y2="4530.0" stroke="#FF0000" stroke-width="8" stroke-dasharray="31 24" stroke-dashoffset="0"/>
<line x1="1795.0" y1="4074.0" x2="2388.0" y2="4102.0" stroke="#174792" stroke-width="7" stroke-dasharray="30 24.8" stroke-dashoffset="30.87"/>
<line x1="1792.0" y1="4073.4" x2="1524.4" y2="4580.3" stroke="#174792" stroke-width="7" stroke-dasharray="30 25" stroke-dashoffset="0"/>
<line x1="2388.0" y1="4102.0" x2="1506.0" y2="4612.0" stroke="#174792" stroke-width="7" stroke-dasharray="31 24" stroke-dashoffset="0"/>
<polygon points="1500.7,4615.4 1511.0,4601.3 1516.3,4610.4" fill="#174792"/>
<rect x="2126" y="4354.5" width="250.5" height="289.5" fill="#F4F4F4" stroke="#E2E2E2" stroke-width="1.5"/><circle cx="2145.6" cy="4379.6" r="8" fill="#02C2F7"/><text transform="translate(2162.5,4414.6)" x="-4.0" y="0" font-size="45.0" textLength="99.6" lengthAdjust="spacingAndGlyphs" fill="#000">Liver</text><circle cx="2145.6" cy="4447.3" r="8" fill="#FF5840"/><text transform="translate(2162.5,4482.9)" x="-4.1" y="0" font-size="45.0" textLength="103.2" lengthAdjust="spacingAndGlyphs" fill="#000">Lung</text><circle cx="2145.6" cy="4515.1" r="8" fill="#6EDD14"/><text transform="translate(2162.5,4550.0)" x="-2.3" y="0" font-size="46.0" textLength="203.0" lengthAdjust="spacingAndGlyphs" fill="#000">Omentum</text><circle cx="2145.6" cy="4582.8" r="8" fill="#FDB040"/><text transform="translate(2162.5,4617.8)" x="-4.0" y="0" font-size="46.0" textLength="158.9" lengthAdjust="spacingAndGlyphs" fill="#000">Primary</text>
<circle cx="2250.5" cy="4315" r="76.5" fill="none" stroke="#0B2471" stroke-width="7.5"/><text transform="translate(2221.5,4359.0)" x="-5.2" y="0" font-size="120.7" textLength="69.2" lengthAdjust="spacingAndGlyphs" fill="#0B2471">4</text>
<circle cx="1292" cy="3702" r="76.5" fill="none" stroke="#DD0000" stroke-width="7.5"/><text transform="translate(1263.0,3746.0)" x="-5.2" y="0" font-size="120.7" textLength="69.2" lengthAdjust="spacingAndGlyphs" fill="#DD0000">4</text>
<path d="M25,35 H2378 M27.7,32 V4645 M1203,32 V4646 M2374.9,32 V1192 M2379.4,1188 V4647 M25,1191 H2382 M25,2347.3 H2382 M25,3506 H2382 M25,4642.3 H1204 M1203,4644 H2382" stroke="#000" stroke-width="6" fill="none"/>
</svg></body></html>
